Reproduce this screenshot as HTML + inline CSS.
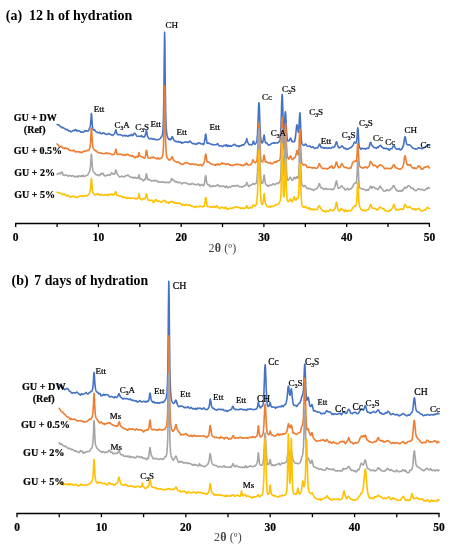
<!DOCTYPE html>
<html><head><meta charset="utf-8"><title>XRD patterns</title>
<style>
html,body{margin:0;padding:0;background:#fff;}
body{width:453px;height:550px;overflow:hidden;}
svg{display:block;}
text{font-family:"Liberation Serif","Times New Roman",serif;fill:#000;}
.ttl{font-size:14px;font-weight:bold;}
.ax{font-size:11.5px;font-weight:bold;}
.sr,.sr2,.ax{stroke:#000;stroke-width:0.2px;}
.sr{font-size:10px;font-weight:bold;}
.sr2{font-size:10.2px;font-weight:bold;}
.pk{font-size:9px;stroke:#000;stroke-width:0.22px;}
.pk2{font-size:9.8px;}
.sub{font-size:5.6px;}
.at{font-size:12px;fill:#454545;letter-spacing:0.15px;}
</style></head><body>
<svg width="453" height="550" viewBox="0 0 453 550">
<rect width="453" height="550" fill="#fff"/>
<text class="ttl" x="5.8" y="20.2" text-anchor="start">(a)  12 h of hydration</text>

<text class="ttl" x="11.6" y="285.0" text-anchor="start">(b)</text>

<text class="ttl" style="font-size:13.8px" x="34.3" y="285">7 days of hydration</text>
<polyline points="57.1,124.5 57.6,124.6 58.1,124.7 58.6,124.9 59.1,125.2 59.6,125.9 60.0,126.2 60.5,126.3 61.0,127.0 61.5,127.6 62.0,127.5 62.5,127.3 63.0,127.6 63.5,128.1 64.0,128.3 64.5,128.5 65.0,128.9 65.5,129.3 66.0,129.8 66.5,129.6 67.0,129.3 67.5,129.8 68.0,130.2 68.5,130.8 69.0,131.1 69.5,130.8 70.0,131.0 70.5,131.6 71.0,131.7 71.5,131.7 72.0,131.3 72.5,130.8 73.0,130.6 73.5,130.4 73.9,130.7 74.4,130.7 74.9,130.1 75.4,129.6 75.9,129.6 76.4,130.4 76.9,131.2 77.4,130.9 77.9,130.3 78.4,130.7 78.9,130.9 79.4,131.0 79.9,131.2 80.4,131.8 80.9,132.1 81.4,132.1 81.9,132.1 82.4,132.1 82.9,132.2 83.4,132.3 83.9,131.8 84.4,131.1 84.9,130.5 85.4,130.6 85.9,131.1 86.4,131.2 86.9,130.9 87.4,130.9 87.8,131.1 88.3,130.9 88.8,130.5 88.9,130.3 89.1,129.7 89.3,129.1 89.3,128.8 89.4,128.5 89.6,127.9 89.8,127.1 89.8,127.1 89.9,127.1 90.1,126.8 90.2,126.3 90.3,126.0 90.4,125.5 90.6,124.3 90.7,122.3 90.8,121.1 90.9,119.7 91.1,116.9 91.2,114.6 91.3,113.9 91.4,113.6 91.6,114.4 91.7,116.7 91.8,118.1 91.9,119.5 92.1,122.0 92.2,124.2 92.3,125.1 92.4,125.9 92.6,127.2 92.7,128.1 92.8,128.5 92.9,128.8 93.1,129.3 93.2,129.7 93.3,129.9 93.4,130.0 93.6,130.0 93.7,129.9 93.8,129.9 93.9,129.8 94.3,129.5 94.8,130.3 95.3,131.0 95.8,131.6 96.3,132.0 96.8,132.0 97.3,132.3 97.8,132.8 98.3,132.8 98.8,132.7 99.3,132.5 99.8,132.2 100.3,133.0 100.8,133.6 101.3,133.7 101.7,133.7 102.2,133.5 102.7,133.1 103.2,132.7 103.7,132.9 104.2,133.2 104.7,133.6 105.2,134.0 105.7,134.1 106.2,134.2 106.7,134.4 107.2,134.4 107.7,134.1 108.2,133.8 108.7,133.6 109.2,133.6 109.7,133.9 110.2,134.3 110.7,134.6 111.2,134.7 111.7,134.9 112.2,135.3 112.7,135.4 113.2,134.8 113.7,134.4 114.2,134.1 114.7,133.4 115.2,131.8 115.5,130.5 115.6,130.0 115.8,129.8 116.1,130.4 116.6,132.6 117.1,134.1 117.6,134.6 118.1,134.8 118.6,134.7 119.1,134.6 119.6,134.5 120.1,134.6 120.6,135.0 121.1,135.0 121.6,135.0 122.1,135.5 122.6,135.9 123.1,135.8 123.6,135.7 124.1,135.2 124.6,135.3 125.1,136.0 125.6,135.9 126.1,135.5 126.6,135.6 127.1,135.9 127.6,136.2 128.1,136.3 128.6,135.7 129.1,135.3 129.6,135.6 130.0,135.6 130.5,135.1 131.0,134.8 131.5,134.5 132.0,135.1 132.5,135.7 133.0,135.2 133.5,134.5 134.0,133.5 134.5,133.2 135.0,133.5 135.5,134.1 136.0,134.8 136.5,135.6 137.0,136.3 137.5,136.4 138.0,136.3 138.5,136.2 139.0,136.2 139.5,136.2 140.0,136.3 140.5,136.5 141.0,136.2 141.5,135.6 142.0,136.0 142.5,136.9 143.0,136.9 143.5,136.7 143.9,136.8 144.1,136.9 144.3,137.0 144.4,136.9 144.6,136.7 144.8,136.4 144.9,136.1 145.1,135.7 145.3,135.1 145.4,134.7 145.6,134.1 145.8,133.4 145.9,132.4 146.1,131.5 146.3,130.8 146.4,130.5 146.6,130.9 146.8,131.9 146.9,133.1 147.1,134.3 147.3,135.1 147.4,135.8 147.6,136.3 147.8,136.7 147.9,136.9 148.1,137.2 148.2,137.5 148.4,137.8 148.6,138.1 148.7,138.3 148.9,138.5 149.4,138.7 149.9,138.8 150.4,138.6 150.9,138.5 151.4,138.6 151.9,138.8 152.4,139.1 152.9,139.2 153.4,139.1 153.9,139.0 154.4,138.8 154.9,139.3 155.4,139.7 155.9,139.7 156.4,139.7 156.9,139.7 157.4,139.6 157.8,139.5 158.3,139.5 158.8,139.5 159.3,139.2 159.8,138.8 160.3,138.3 160.8,137.7 161.3,137.1 161.8,136.2 162.1,135.5 162.3,135.0 162.5,134.3 162.6,133.2 162.8,131.5 163.0,129.4 163.1,126.5 163.3,122.5 163.5,116.9 163.6,109.6 163.8,99.4 164.0,86.1 164.1,70.0 164.3,52.8 164.5,38.4 164.6,32.4 164.8,38.1 165.0,52.4 165.1,69.7 165.3,85.8 165.5,99.4 165.6,109.8 165.8,117.4 166.0,122.8 166.1,126.5 166.3,129.1 166.5,131.1 166.6,132.5 166.8,133.7 166.9,134.6 167.1,135.4 167.3,136.1 167.8,137.6 168.3,138.7 168.8,139.5 169.3,139.5 169.8,138.9 170.3,139.4 170.8,139.8 171.3,138.7 171.7,137.4 172.1,136.8 172.2,136.7 172.4,136.7 172.7,137.2 173.2,138.7 173.7,139.7 174.2,140.2 174.7,140.8 175.2,141.4 175.7,141.4 176.2,141.3 176.7,141.7 177.2,141.9 177.7,141.5 178.2,141.4 178.7,141.9 179.2,142.2 179.7,142.3 180.2,142.1 180.7,141.8 181.2,142.4 181.7,143.4 182.2,143.0 182.7,142.6 183.2,142.7 183.7,142.6 184.2,142.2 184.7,142.0 185.2,142.0 185.6,142.1 186.1,142.1 186.6,142.1 187.1,142.0 187.6,142.4 188.1,142.5 188.6,142.1 189.1,141.9 189.6,141.4 190.1,141.1 190.6,141.5 191.1,142.2 191.6,142.8 192.1,143.3 192.6,143.6 193.1,143.5 193.6,143.6 194.1,143.6 194.6,143.8 195.1,144.0 195.6,144.2 196.1,144.4 196.6,144.0 197.1,143.3 197.6,143.5 198.1,143.7 198.6,143.1 199.1,142.9 199.5,142.9 200.0,143.0 200.5,143.6 201.0,143.9 201.5,144.0 202.0,144.0 202.5,143.8 203.0,144.3 203.2,144.4 203.4,144.5 203.5,144.6 203.7,144.3 203.9,143.9 204.0,143.5 204.2,142.9 204.3,142.2 204.5,141.4 204.7,140.6 204.8,139.5 205.0,138.3 205.2,136.9 205.3,135.6 205.5,134.6 205.7,134.1 205.8,134.5 206.0,135.5 206.2,136.8 206.3,138.2 206.5,139.5 206.7,140.8 206.8,141.7 207.0,142.5 207.2,143.2 207.3,143.2 207.5,143.2 207.7,143.1 207.8,142.9 208.0,142.7 208.2,142.7 208.5,143.0 209.0,143.5 209.5,143.5 210.0,143.6 210.5,143.9 211.0,144.2 211.5,144.2 212.0,144.4 212.5,144.7 213.0,144.7 213.4,144.6 213.9,144.6 214.4,144.7 214.9,144.7 215.4,144.7 215.9,144.7 216.4,144.6 216.9,144.2 217.3,143.7 217.4,143.5 217.6,143.5 217.9,143.9 218.4,144.9 218.9,145.7 219.4,145.9 219.9,145.8 220.4,145.8 220.9,145.8 221.4,146.0 221.9,146.2 222.4,146.4 222.9,146.4 223.4,146.1 223.9,145.5 224.4,145.3 224.9,145.6 225.4,145.7 225.9,145.1 226.4,144.7 226.9,145.9 227.3,146.4 227.8,145.5 228.3,145.4 228.8,146.3 229.3,146.2 229.8,145.6 230.3,145.9 230.8,146.3 231.3,146.2 231.8,146.0 232.3,145.6 232.8,145.3 233.3,145.0 233.8,144.7 234.3,144.3 234.8,144.4 235.3,144.8 235.8,145.3 236.3,145.9 236.8,145.9 237.3,145.9 237.8,145.7 238.3,145.8 238.8,146.6 239.3,146.6 239.8,145.8 240.3,145.7 240.8,145.9 241.2,145.5 241.7,145.0 242.2,144.9 242.7,144.8 243.2,145.1 243.7,145.1 244.2,144.4 244.7,143.7 245.2,143.1 245.7,142.5 246.2,140.9 246.5,139.6 246.7,138.6 246.8,138.6 247.1,139.9 247.2,140.4 247.7,142.3 248.2,143.1 248.7,144.1 249.2,144.7 249.7,144.8 250.2,144.8 250.7,144.6 251.2,144.8 251.7,144.9 252.2,144.5 252.7,143.5 252.8,142.8 253.2,141.6 253.5,141.2 253.7,141.5 254.2,143.3 254.7,144.3 255.1,144.2 255.6,143.7 256.1,142.9 256.5,142.2 256.6,141.7 256.8,141.0 257.0,140.0 257.1,138.6 257.3,136.7 257.5,134.2 257.6,131.1 257.8,127.4 258.0,123.3 258.1,118.8 258.3,114.2 258.5,109.8 258.6,106.1 258.8,103.6 259.0,102.7 259.1,103.7 259.3,106.4 259.5,110.4 259.6,114.9 259.8,119.7 259.9,124.4 260.1,128.3 260.3,131.7 260.4,134.5 260.6,136.8 260.8,138.4 260.9,139.8 261.1,140.8 261.3,141.6 261.4,142.2 261.6,142.7 261.7,142.8 261.9,143.0 262.0,143.0 262.1,143.0 262.2,142.9 262.3,142.8 262.5,142.6 262.6,142.5 262.7,142.3 262.8,141.9 263.0,141.4 263.1,141.0 263.2,140.7 263.3,139.7 263.5,138.5 263.6,137.8 263.7,137.3 263.8,136.1 264.0,135.2 264.1,135.0 264.2,135.0 264.3,135.7 264.5,137.0 264.6,137.6 264.7,138.3 264.8,139.6 265.0,140.7 265.1,141.1 265.2,141.5 265.3,142.2 265.5,142.6 265.6,142.7 265.7,142.8 265.8,142.9 266.0,142.9 266.1,142.8 266.2,142.8 266.3,142.7 266.5,142.8 266.6,142.8 266.7,142.8 267.1,143.2 267.6,144.0 268.1,144.8 268.6,145.0 269.0,145.1 269.5,144.9 270.0,144.8 270.5,144.4 271.0,143.9 271.5,143.6 272.0,143.3 272.5,143.2 273.0,143.1 273.5,142.8 274.0,142.7 274.5,143.1 275.0,143.1 275.5,143.0 276.0,142.9 276.5,142.8 277.0,142.8 277.5,142.9 278.0,142.8 278.5,142.4 279.0,141.8 279.5,141.1 279.6,140.8 279.8,140.3 280.0,139.7 280.1,138.9 280.3,137.8 280.5,136.1 280.6,133.9 280.8,130.8 281.0,126.8 281.1,121.7 281.3,116.1 281.5,110.2 281.6,104.4 281.8,99.5 282.0,95.9 282.1,94.5 282.3,95.5 282.5,98.7 282.6,103.4 282.8,109.0 283.0,114.9 283.1,120.2 283.3,124.8 283.4,128.4 283.6,131.0 283.8,132.0 283.9,131.9 284.1,130.9 284.3,128.9 284.4,126.3 284.6,123.2 284.8,120.1 284.9,116.9 285.1,114.1 285.3,112.3 285.4,111.8 285.6,112.7 285.8,115.0 285.9,118.2 286.1,122.0 286.3,125.7 286.4,129.2 286.6,132.3 286.8,134.8 286.9,136.8 287.1,138.3 287.3,139.4 287.4,140.1 287.6,140.5 287.7,140.7 287.9,140.9 288.4,141.0 288.9,140.7 289.4,140.2 289.9,139.2 290.1,138.8 290.4,138.2 290.7,138.4 290.9,138.7 291.4,140.4 291.9,141.6 292.4,141.6 292.9,141.5 293.4,141.7 293.9,141.8 294.4,141.7 294.5,141.5 294.7,141.0 294.9,140.3 295.0,139.5 295.2,138.6 295.4,137.5 295.5,136.2 295.7,134.8 295.9,133.2 296.0,131.6 296.2,129.9 296.4,128.3 296.5,126.8 296.7,125.7 296.9,125.0 297.0,124.7 297.2,125.0 297.3,125.7 297.4,126.2 297.5,126.7 297.6,127.4 297.7,128.0 297.8,128.7 297.8,129.4 297.9,130.0 298.0,130.6 298.1,131.2 298.2,131.6 298.3,132.0 298.3,132.2 298.4,132.2 298.5,132.1 298.6,131.8 298.7,131.3 298.8,130.6 298.8,129.8 298.9,128.7 299.0,127.4 299.1,125.9 299.2,124.3 299.2,122.6 299.3,120.9 299.4,119.1 299.5,117.4 299.6,115.9 299.7,113.6 299.8,113.0 299.9,112.9 300.1,114.0 300.2,116.6 300.3,118.4 300.4,120.3 300.6,124.4 300.7,128.5 300.8,130.4 300.9,132.1 301.1,135.3 301.2,137.9 301.3,139.0 301.4,139.9 301.6,141.4 301.7,142.4 301.8,142.8 301.9,143.2 302.1,143.7 302.2,144.0 302.3,144.2 302.4,144.3 302.8,144.8 303.3,145.3 303.8,145.5 304.3,145.3 304.8,144.7 305.0,144.5 305.3,144.1 305.6,144.1 305.8,144.3 306.3,144.8 306.8,145.5 307.3,146.1 307.8,146.3 308.3,146.3 308.8,146.3 309.3,146.2 309.8,146.1 310.3,146.3 310.8,146.9 311.2,147.3 311.7,147.4 312.2,147.0 312.7,146.5 313.2,147.1 313.7,147.7 314.2,148.2 314.7,148.4 315.2,148.3 315.7,148.0 316.2,147.8 316.7,147.8 317.2,147.9 317.7,147.7 318.2,147.1 318.7,145.9 319.0,145.0 319.2,144.6 319.4,144.2 319.7,144.0 320.2,144.8 320.7,146.9 321.2,147.7 321.7,147.3 322.2,147.3 322.7,147.5 323.2,147.9 323.7,148.3 324.2,148.1 324.7,148.0 325.1,147.8 325.6,147.8 326.1,147.9 326.6,147.9 327.1,148.0 327.6,148.2 328.1,148.2 328.6,148.0 329.1,147.8 329.6,148.1 330.1,148.3 330.6,148.2 331.1,148.1 331.6,147.7 332.1,147.4 332.6,147.1 333.1,147.2 333.6,147.4 334.0,147.3 334.1,147.2 334.2,147.2 334.3,147.0 334.5,146.9 334.6,146.8 334.7,146.7 334.8,146.3 335.0,145.9 335.1,145.6 335.2,145.4 335.3,144.8 335.5,144.2 335.6,144.0 335.7,143.7 335.8,143.1 336.0,142.5 336.1,142.3 336.2,142.0 336.3,141.7 336.5,141.7 336.6,141.7 336.6,141.9 336.8,142.4 337.0,143.0 337.1,143.3 337.1,143.7 337.3,144.4 337.5,145.0 337.6,145.2 337.6,145.5 337.8,145.9 338.0,146.3 338.1,146.5 338.1,146.6 338.3,146.9 338.5,147.3 338.6,147.4 338.6,147.5 338.8,147.7 339.0,147.9 339.0,148.0 339.5,147.8 340.0,147.3 340.5,147.3 341.0,147.0 341.4,146.4 341.5,146.2 341.7,146.0 342.0,145.9 342.5,146.2 343.0,146.8 343.5,147.6 344.0,148.2 344.5,148.5 345.0,148.3 345.5,148.0 346.0,148.8 346.5,149.4 347.0,149.3 347.5,149.1 348.0,149.0 348.5,148.8 349.0,148.5 349.5,148.2 350.0,147.8 350.5,147.7 351.0,147.6 351.5,147.0 352.0,146.4 352.5,145.9 352.6,145.8 352.8,145.6 352.9,145.2 353.1,144.9 353.3,144.5 353.4,144.2 353.6,143.8 353.8,143.4 353.9,143.1 354.1,142.8 354.3,142.6 354.4,142.3 354.6,142.1 354.8,142.1 354.9,142.2 355.1,142.3 355.3,142.5 355.3,142.6 355.4,142.7 355.5,142.8 355.6,142.9 355.7,142.9 355.8,143.0 355.8,143.0 355.9,143.0 356.0,143.0 356.1,143.0 356.2,142.9 356.3,142.8 356.3,142.6 356.4,142.3 356.5,142.0 356.6,141.6 356.7,141.0 356.8,140.3 356.8,139.5 356.9,138.6 357.0,137.6 357.1,136.4 357.2,135.1 357.3,133.8 357.3,132.5 357.4,131.2 357.5,130.0 357.7,128.2 357.8,127.7 357.9,128.0 358.0,128.7 358.2,130.9 358.3,133.9 358.4,135.5 358.5,137.1 358.7,140.1 358.8,142.7 358.9,143.8 359.0,144.7 359.2,146.3 359.3,147.1 359.4,147.3 359.5,147.5 359.7,147.8 359.8,147.9 359.9,147.9 360.0,147.9 360.1,148.0 360.3,148.3 360.4,148.5 360.9,149.2 361.4,148.9 361.9,148.3 362.4,148.4 362.9,148.5 363.4,148.6 363.9,148.6 364.4,148.6 364.9,148.7 365.4,149.1 365.9,149.0 366.4,148.5 366.8,148.3 367.3,148.1 367.8,148.4 368.3,148.5 368.8,147.6 369.3,146.2 369.8,144.2 370.3,142.6 370.7,142.4 370.8,142.6 371.0,143.0 371.3,143.8 371.8,145.2 372.3,145.9 372.8,146.0 373.3,146.7 373.6,147.2 373.8,147.4 374.0,147.4 374.3,147.6 374.8,147.8 375.3,147.7 375.8,147.9 376.3,148.4 376.8,148.0 377.3,147.1 377.8,147.2 378.3,147.5 378.8,146.7 379.3,146.0 379.8,145.8 380.3,145.8 380.6,145.4 380.7,145.3 380.9,145.3 381.2,145.8 381.7,146.9 382.2,147.4 382.7,147.5 383.2,147.9 383.7,148.4 384.2,148.4 384.7,148.3 385.2,148.5 385.7,148.7 386.2,148.4 386.7,148.5 387.2,148.9 387.7,148.9 388.2,148.7 388.7,149.4 389.2,150.3 389.7,149.6 390.2,149.0 390.7,148.8 391.2,148.7 391.7,148.8 392.2,148.3 392.7,147.1 393.2,146.2 393.5,145.8 393.7,145.8 393.8,145.7 394.2,145.8 394.6,146.4 395.1,147.6 395.6,148.4 396.1,148.7 396.6,148.9 397.1,149.2 397.6,149.2 398.1,148.9 398.6,148.7 399.1,148.6 399.6,149.2 400.1,149.9 400.6,149.9 401.1,149.6 401.6,149.2 402.1,148.5 402.5,147.6 402.6,147.4 402.7,147.1 402.8,146.6 403.0,146.3 403.1,146.1 403.2,146.0 403.3,145.5 403.5,144.9 403.6,144.6 403.7,144.3 403.8,143.4 404.0,142.2 404.1,141.6 404.2,141.0 404.3,139.8 404.5,138.6 404.6,138.1 404.7,137.6 404.8,137.0 405.0,136.8 405.1,136.8 405.2,136.9 405.3,137.3 405.5,138.0 405.6,138.4 405.7,138.9 405.8,139.9 406.0,140.8 406.1,141.3 406.2,141.8 406.3,142.6 406.5,143.3 406.6,143.6 406.6,143.8 406.8,144.1 407.0,144.3 407.1,144.4 407.1,144.5 407.3,144.6 407.5,144.7 407.6,144.7 408.1,144.9 408.5,144.8 409.0,144.8 409.2,144.8 409.5,144.9 409.9,145.0 410.0,145.1 410.5,145.5 411.0,145.9 411.5,146.5 412.0,147.2 412.5,147.8 413.0,148.3 413.5,148.5 414.0,148.5 414.5,148.5 415.0,148.7 415.5,149.1 416.0,149.1 416.5,149.0 417.0,148.9 417.5,148.6 418.0,148.2 418.3,147.9 418.5,147.8 418.6,147.8 419.0,147.8 419.5,148.1 420.0,148.2 420.5,148.3 421.0,148.5 421.5,148.6 422.0,148.7 422.4,148.6 422.9,148.4 423.4,148.0 423.9,147.7 424.4,147.6 424.9,147.2 425.4,146.9 425.9,146.5 426.4,146.0 426.9,145.4 427.4,144.8 427.7,144.7 427.9,144.7 428.1,144.7 428.4,144.9 428.9,145.3 429.4,145.7" fill="none" stroke="#4472C4" stroke-width="1.6" stroke-linejoin="round" stroke-linecap="round"/>
<polyline points="57.1,143.9 57.6,144.5 58.1,145.0 58.6,145.3 59.1,145.9 59.6,146.7 60.0,146.8 60.5,146.8 61.0,146.6 61.5,146.3 62.0,147.0 62.5,147.6 63.0,147.8 63.5,148.1 64.0,148.7 64.5,148.7 65.0,147.9 65.5,147.8 66.0,148.3 66.5,148.5 67.0,148.7 67.5,148.7 68.0,148.6 68.5,149.1 69.0,150.0 69.5,150.4 70.0,150.4 70.5,150.3 71.0,150.5 71.5,150.7 72.0,150.8 72.5,151.0 73.0,150.5 73.5,150.1 73.9,150.4 74.4,150.9 74.9,151.6 75.4,151.9 75.9,151.9 76.4,151.8 76.9,151.7 77.4,151.7 77.9,151.8 78.4,151.9 78.9,152.0 79.4,151.7 79.9,151.7 80.4,152.5 80.9,152.7 81.4,152.4 81.9,152.4 82.4,152.3 82.9,152.0 83.4,151.4 83.9,151.3 84.4,151.1 84.9,151.2 85.4,151.4 85.9,151.1 86.4,150.8 86.9,150.3 87.4,150.3 87.8,150.6 88.3,150.5 88.8,150.2 88.9,150.0 89.1,149.7 89.3,149.3 89.3,149.1 89.4,148.9 89.6,148.4 89.8,147.9 89.8,147.6 89.9,147.3 90.1,146.6 90.2,145.5 90.3,144.7 90.4,143.9 90.6,141.8 90.7,139.0 90.8,137.4 90.9,135.7 91.1,132.2 91.2,129.3 91.3,128.5 91.4,128.1 91.6,129.2 91.7,131.9 91.8,133.6 91.9,135.3 92.1,138.4 92.2,141.1 92.3,142.1 92.4,143.1 92.6,144.7 92.7,145.9 92.8,146.5 92.9,146.9 93.1,147.6 93.2,148.2 93.3,148.5 93.4,148.8 93.6,149.0 93.7,149.2 93.8,149.3 93.9,149.4 94.3,149.8 94.8,150.4 95.3,150.8 95.8,150.9 96.3,151.0 96.8,151.4 97.3,151.9 97.8,152.5 98.3,152.8 98.8,152.8 99.3,152.9 99.8,153.1 100.3,152.9 100.8,152.7 101.3,153.0 101.7,153.2 102.2,153.4 102.7,153.6 103.2,153.6 103.7,153.7 104.2,153.7 104.7,153.4 105.2,153.0 105.7,153.2 106.2,153.3 106.7,152.9 107.2,153.0 107.7,153.5 108.2,153.6 108.7,153.4 109.2,153.4 109.7,153.5 110.2,153.6 110.7,153.7 111.2,154.2 111.7,154.6 112.2,154.6 112.7,154.6 113.2,154.6 113.7,154.4 114.2,153.8 114.7,153.2 115.2,151.9 115.5,150.3 115.6,149.6 115.8,149.3 116.1,149.6 116.6,152.4 117.1,154.3 117.6,154.4 118.1,154.3 118.6,154.4 119.1,154.4 119.6,154.5 120.1,154.4 120.6,154.1 121.1,154.2 121.6,154.3 122.1,154.7 122.6,155.0 123.1,155.3 123.6,155.3 124.1,154.9 124.6,154.8 125.1,154.9 125.6,155.1 126.1,155.3 126.6,154.9 127.1,154.3 127.6,154.3 128.1,154.5 128.6,155.0 129.1,155.3 129.6,155.5 130.0,155.6 130.5,155.5 131.0,155.8 131.5,156.3 132.0,155.9 132.5,155.6 133.0,156.1 133.5,156.6 134.0,157.1 134.5,157.5 135.0,157.7 135.5,157.4 136.0,156.5 136.5,156.4 137.0,156.7 137.5,157.0 138.0,157.1 138.5,154.9 138.7,153.9 139.0,152.6 139.3,153.7 139.5,154.5 140.0,156.0 140.5,156.4 141.0,156.6 141.5,156.7 142.0,156.8 142.5,157.0 143.0,157.3 143.5,157.7 143.9,158.0 144.1,158.1 144.3,158.1 144.4,158.1 144.6,158.0 144.8,157.9 144.9,157.7 145.1,157.4 145.3,157.0 145.4,156.2 145.6,155.3 145.8,154.2 145.9,153.0 146.1,151.7 146.3,150.7 146.4,150.2 146.6,150.4 146.8,151.2 146.9,152.1 147.1,153.1 147.3,154.3 147.4,155.3 147.6,156.1 147.8,156.8 147.9,157.4 148.1,157.7 148.2,157.8 148.4,157.9 148.6,157.9 148.7,158.0 148.9,158.0 149.4,158.2 149.9,158.3 150.4,158.1 150.9,157.8 151.4,157.2 151.9,157.2 152.4,157.8 152.9,157.6 153.4,157.0 153.9,157.3 154.4,157.7 154.9,158.0 155.4,158.3 155.9,158.4 156.4,158.5 156.9,159.0 157.4,158.7 157.8,157.7 158.3,157.9 158.8,158.7 159.3,158.9 159.8,158.9 160.3,158.6 160.8,158.2 161.3,158.3 161.8,157.8 162.1,156.8 162.3,156.3 162.5,155.6 162.6,154.9 162.8,154.2 163.0,153.1 163.1,151.5 163.3,149.2 163.5,145.7 163.6,140.4 163.8,133.1 164.0,123.7 164.1,112.3 164.3,100.1 164.5,89.9 164.6,85.7 164.8,89.7 165.0,99.7 165.1,111.8 165.3,123.1 165.5,132.6 165.6,139.9 165.8,145.3 166.0,149.0 166.1,151.6 166.3,153.5 166.5,154.8 166.6,155.8 166.8,156.5 166.9,157.1 167.1,157.6 167.3,157.9 167.8,158.6 168.3,159.2 168.8,159.9 169.3,160.1 169.8,159.8 170.3,159.8 170.8,159.5 171.3,158.4 171.7,157.2 172.1,156.7 172.2,156.7 172.4,156.9 172.7,157.7 173.2,159.1 173.7,160.1 174.2,160.7 174.7,161.1 175.2,161.5 175.7,161.7 176.2,161.8 176.7,162.2 177.2,162.4 177.7,162.0 178.2,161.8 178.7,162.2 179.2,162.9 179.7,163.4 180.2,163.6 180.7,163.6 181.2,163.9 181.7,163.9 182.2,164.2 182.7,164.5 183.2,164.5 183.7,164.1 184.2,163.3 184.7,163.0 185.2,163.0 185.6,162.9 186.1,162.9 186.6,162.8 187.1,162.7 187.6,162.9 188.1,163.2 188.6,163.4 189.1,163.6 189.6,164.0 190.1,164.3 190.6,164.5 191.1,164.3 191.6,163.7 192.1,163.8 192.6,163.9 193.1,164.0 193.6,164.2 194.1,164.5 194.6,164.6 195.1,164.4 195.6,164.3 196.1,164.4 196.6,164.4 197.1,164.8 197.6,165.1 198.1,165.3 198.6,165.2 199.1,165.1 199.5,164.9 200.0,164.7 200.5,164.5 201.0,164.8 201.5,165.6 202.0,165.7 202.5,165.2 203.0,164.5 203.2,164.2 203.4,163.9 203.5,163.6 203.7,163.4 203.9,163.2 204.0,162.9 204.2,162.5 204.3,162.0 204.5,161.3 204.7,160.4 204.8,159.3 205.0,158.1 205.2,156.8 205.3,155.6 205.5,154.5 205.7,154.0 205.8,154.1 206.0,154.8 206.2,155.8 206.3,157.1 206.5,158.4 206.7,159.5 206.8,160.5 207.0,161.2 207.2,161.8 207.3,162.0 207.5,162.1 207.7,162.1 207.8,162.1 208.0,162.0 208.2,161.9 208.5,161.9 209.0,162.1 209.5,162.8 210.0,163.4 210.5,163.5 211.0,163.7 211.5,164.1 212.0,164.3 212.5,164.4 213.0,164.5 213.4,164.5 213.9,164.6 214.4,164.7 214.9,165.1 215.4,165.3 215.9,164.6 216.4,164.4 216.9,164.8 217.3,164.8 217.4,164.5 217.6,164.2 217.9,163.9 218.4,164.4 218.9,165.0 219.4,164.9 219.9,164.6 220.4,164.2 220.9,163.8 221.4,163.1 221.9,162.9 222.4,163.7 222.9,164.0 223.4,163.5 223.9,163.4 224.4,163.6 224.9,163.9 225.4,164.3 225.9,164.4 226.4,164.4 226.9,164.4 227.3,164.2 227.8,163.8 228.3,163.9 228.8,164.0 229.3,164.6 229.8,165.4 230.3,165.3 230.8,164.9 231.3,165.2 231.8,165.4 232.3,165.4 232.8,165.4 233.3,165.5 233.8,165.3 234.3,164.8 234.8,164.6 235.3,164.6 235.8,164.6 236.3,164.7 236.8,164.3 237.3,164.1 237.8,164.4 238.3,164.7 238.8,164.7 239.3,164.6 239.8,164.6 240.3,164.8 240.8,165.1 241.2,165.0 241.7,164.9 242.2,165.4 242.7,165.8 243.2,165.7 243.7,165.4 244.2,164.5 244.7,164.3 245.2,164.8 245.7,164.5 246.2,163.6 246.5,163.2 246.7,163.0 246.8,163.0 247.1,163.8 247.2,164.0 247.7,164.7 248.2,164.9 248.7,165.1 249.2,165.1 249.7,164.9 250.2,164.7 250.7,164.6 251.2,164.1 251.7,163.3 252.2,161.9 252.7,160.2 252.8,160.0 253.2,159.9 253.5,160.5 253.7,161.0 254.2,162.1 254.7,162.6 255.1,162.8 255.6,162.5 256.1,161.9 256.5,161.5 256.6,161.2 256.8,160.7 257.0,160.0 257.1,158.8 257.3,157.0 257.5,154.4 257.6,151.2 257.8,147.4 258.0,143.2 258.1,138.5 258.3,134.0 258.5,129.7 258.6,126.1 258.8,123.7 259.0,122.9 259.1,123.8 259.3,126.3 259.5,129.9 259.6,134.2 259.8,138.8 259.9,143.1 260.1,147.4 260.3,151.1 260.4,154.2 260.6,156.7 260.8,158.7 260.9,160.0 261.1,160.6 261.3,161.0 261.4,161.2 261.6,161.2 261.7,161.2 261.9,161.3 262.0,161.5 262.1,161.6 262.2,161.7 262.3,161.8 262.5,161.9 262.6,161.9 262.7,161.8 262.8,161.4 263.0,160.8 263.1,160.5 263.2,160.1 263.3,159.2 263.5,158.1 263.6,157.5 263.7,157.0 263.8,156.0 264.0,155.3 264.1,155.1 264.2,155.1 264.3,155.6 264.5,156.6 264.6,157.2 264.7,157.8 264.8,159.0 265.0,160.0 265.1,160.5 265.2,160.9 265.3,161.6 265.5,162.0 265.6,162.0 265.7,162.0 265.8,162.0 266.0,161.9 266.1,161.8 266.2,161.7 266.3,161.5 266.5,161.7 266.6,161.8 266.7,161.8 267.1,162.2 267.6,162.6 268.1,163.0 268.6,163.0 269.0,162.9 269.5,162.6 270.0,162.5 270.5,163.3 271.0,163.7 271.5,163.4 272.0,163.4 272.5,163.7 273.0,163.4 273.5,163.0 274.0,162.4 274.5,161.8 275.0,161.8 275.5,161.9 276.0,162.2 276.5,162.1 277.0,161.2 277.5,160.8 278.0,160.8 278.5,160.8 279.0,160.8 279.5,160.3 279.6,160.1 279.8,159.7 280.0,159.2 280.1,158.3 280.3,157.2 280.5,155.5 280.6,153.3 280.8,150.4 281.0,146.7 281.1,142.1 281.3,137.0 281.5,131.5 281.6,126.0 281.8,121.3 282.0,118.4 282.1,117.5 282.3,118.9 282.5,122.1 282.6,126.8 282.8,131.7 283.0,136.5 283.1,140.8 283.3,144.4 283.4,147.1 283.6,148.7 283.8,149.5 283.9,149.3 284.1,148.0 284.3,145.8 284.4,142.7 284.6,139.0 284.8,134.9 284.9,130.7 285.1,127.1 285.3,124.6 285.4,123.7 285.6,124.6 285.8,127.2 285.9,130.8 286.1,135.0 286.3,139.3 286.4,143.3 286.6,146.9 286.8,149.9 286.9,152.3 287.1,154.1 287.3,155.4 287.4,156.4 287.6,157.1 287.7,157.6 287.9,158.0 288.4,158.6 288.9,159.1 289.4,158.4 289.9,156.8 290.1,156.3 290.4,155.9 290.7,156.0 290.9,156.2 291.4,158.0 291.9,159.3 292.4,159.6 292.9,159.6 293.4,158.8 293.8,157.9 293.9,157.8 294.1,157.7 294.4,157.8 294.5,157.9 294.5,158.0 294.7,158.0 294.9,157.8 295.0,157.6 295.2,157.3 295.4,156.8 295.5,156.4 295.7,155.9 295.9,155.3 296.0,154.6 296.2,153.7 296.4,152.9 296.5,152.0 296.7,151.2 296.9,150.7 297.0,150.5 297.2,150.7 297.3,151.3 297.4,151.7 297.5,152.1 297.6,152.5 297.7,153.0 297.8,153.4 297.8,153.8 297.9,154.2 298.0,154.5 298.1,154.8 298.2,154.9 298.3,154.9 298.3,154.8 298.4,154.5 298.5,154.0 298.6,153.3 298.7,152.5 298.8,151.5 298.8,150.2 298.9,148.7 299.0,147.1 299.1,145.3 299.2,143.2 299.2,141.1 299.3,138.9 299.4,136.7 299.5,134.7 299.6,132.8 299.7,130.0 299.8,129.3 299.9,129.1 300.1,130.3 300.2,133.4 300.3,135.4 300.4,137.7 300.6,142.4 300.7,147.0 300.8,149.1 300.9,151.1 301.1,154.6 301.2,157.5 301.3,158.6 301.4,159.6 301.6,161.2 301.7,162.4 301.8,162.8 301.9,163.1 302.1,163.5 302.2,163.8 302.3,163.9 302.4,164.0 302.8,164.3 303.3,165.0 303.8,165.1 304.3,164.9 304.8,164.6 305.0,164.5 305.3,164.5 305.6,164.8 305.8,164.9 306.3,165.5 306.8,166.6 307.3,167.6 307.8,167.4 308.3,167.2 308.8,167.1 309.3,167.1 309.8,167.4 310.3,167.5 310.8,167.4 311.2,167.5 311.7,167.7 312.2,168.0 312.7,168.2 313.2,167.8 313.7,167.5 314.2,167.8 314.7,167.9 315.2,168.0 315.7,168.1 316.2,168.3 316.7,168.2 317.2,167.9 317.7,167.3 318.2,166.3 318.7,164.9 319.0,163.9 319.2,163.6 319.4,163.6 319.7,164.2 320.2,165.5 320.7,166.3 321.2,167.1 321.7,167.9 322.2,168.2 322.7,168.3 323.2,168.5 323.7,168.8 324.2,168.6 324.7,168.4 325.1,168.4 325.6,168.5 326.1,168.5 326.6,168.6 327.1,169.1 327.6,168.9 328.1,168.4 328.6,168.2 329.1,168.0 329.6,167.3 330.1,166.6 330.6,166.9 331.1,166.7 331.6,165.8 332.1,166.3 332.6,168.0 333.1,168.3 333.6,167.9 334.0,167.8 334.1,167.8 334.2,167.8 334.3,167.7 334.5,167.5 334.6,167.4 334.7,167.2 334.8,166.8 335.0,166.4 335.1,166.1 335.2,165.8 335.3,165.2 335.5,164.5 335.6,164.3 335.7,164.0 335.8,163.4 336.0,162.9 336.1,162.6 336.2,162.4 336.3,162.1 336.5,162.0 336.6,162.1 336.6,162.3 336.8,162.8 337.0,163.5 337.1,163.8 337.1,164.2 337.3,165.0 337.5,165.5 337.6,165.7 337.6,165.9 337.8,166.3 338.0,166.6 338.1,166.7 338.1,166.8 338.3,167.1 338.5,167.3 338.6,167.4 338.6,167.5 338.8,167.6 339.0,167.7 339.0,167.7 339.5,167.6 340.0,167.3 340.5,166.4 341.0,165.2 341.4,164.3 341.5,163.9 341.7,163.6 342.0,163.7 342.5,164.6 343.0,165.7 343.5,166.4 344.0,167.1 344.5,167.5 345.0,167.5 345.5,167.3 346.0,167.4 346.5,167.5 347.0,167.9 347.5,168.2 348.0,168.2 348.5,168.3 349.0,168.5 349.5,168.3 350.0,167.8 350.5,167.9 351.0,167.9 351.5,166.2 352.0,164.5 352.5,163.4 352.6,162.9 352.8,162.5 352.9,162.2 353.1,162.0 353.3,161.9 353.4,161.9 353.6,162.0 353.8,161.9 353.9,161.8 354.1,161.6 354.3,161.4 354.4,161.3 354.6,161.2 354.8,161.0 354.9,161.0 355.1,160.9 355.3,160.9 355.3,160.9 355.4,160.9 355.5,160.9 355.6,161.0 355.7,161.1 355.8,161.2 355.8,161.3 355.9,161.4 356.0,161.5 356.1,161.5 356.2,161.4 356.3,161.4 356.3,161.2 356.4,160.9 356.5,160.5 356.6,160.0 356.7,159.3 356.8,158.5 356.8,157.5 356.9,156.4 357.0,155.1 357.1,153.7 357.2,152.2 357.3,150.7 357.3,149.1 357.4,147.6 357.5,146.2 357.7,144.1 357.8,143.4 357.9,143.7 358.0,144.5 358.2,147.1 358.3,150.4 358.4,152.1 358.5,153.8 358.7,157.0 358.8,159.6 358.9,160.7 359.0,161.7 359.2,163.2 359.3,164.4 359.4,164.8 359.5,165.2 359.7,165.8 359.8,166.2 359.9,166.3 360.0,166.5 360.1,166.7 360.3,166.9 360.4,167.0 360.9,167.3 361.4,167.5 361.9,167.6 362.4,167.9 362.9,168.1 363.4,167.7 363.9,167.5 364.4,167.7 364.9,167.4 365.4,166.7 365.9,166.9 366.4,167.6 366.8,167.8 367.3,167.9 367.8,167.3 368.3,166.7 368.8,166.5 369.3,165.5 369.8,163.3 370.3,161.7 370.7,161.4 370.8,161.6 371.0,161.9 371.3,162.4 371.8,163.1 372.3,164.1 372.8,165.1 373.3,165.5 373.6,165.6 373.8,165.5 374.0,165.4 374.3,165.2 374.8,165.1 375.3,165.6 375.8,166.0 376.3,166.3 376.8,166.9 377.3,167.7 377.8,167.2 378.3,166.2 378.8,165.8 379.3,165.4 379.8,164.9 380.3,164.7 380.6,164.7 380.7,164.8 380.9,164.9 381.2,165.1 381.7,165.6 382.2,165.9 382.7,166.2 383.2,166.7 383.7,167.3 384.2,168.2 384.7,168.9 385.2,168.6 385.7,168.5 386.2,168.4 386.7,168.3 387.2,168.1 387.7,168.3 388.2,168.7 388.7,168.8 389.2,168.7 389.7,168.4 390.2,168.2 390.7,168.5 391.2,168.6 391.7,167.9 392.2,167.3 392.7,166.4 393.2,165.5 393.5,165.0 393.7,164.9 393.8,164.8 394.2,164.9 394.6,165.7 395.1,167.0 395.6,167.9 396.1,167.9 396.6,168.0 397.1,168.1 397.6,168.4 398.1,168.7 398.6,168.9 399.1,168.9 399.6,169.1 400.1,169.4 400.6,169.1 401.1,168.7 401.6,168.3 402.1,167.8 402.5,167.3 402.6,167.2 402.7,167.0 402.8,166.7 403.0,166.2 403.1,166.0 403.2,165.7 403.3,165.1 403.5,164.4 403.6,164.0 403.7,163.5 403.8,162.5 404.0,161.3 404.1,160.7 404.2,160.0 404.3,158.8 404.5,157.6 404.6,157.0 404.7,156.5 404.8,156.0 405.0,155.8 405.1,155.9 405.2,156.0 405.3,156.5 405.5,157.3 405.6,157.8 405.7,158.2 405.8,159.1 406.0,160.0 406.1,160.5 406.2,160.9 406.3,161.7 406.5,162.3 406.6,162.7 406.6,163.0 406.8,163.6 407.0,164.2 407.1,164.4 407.1,164.6 407.3,165.0 407.5,165.1 407.6,165.1 408.1,164.8 408.5,164.8 409.0,165.3 409.2,165.4 409.5,165.1 409.9,164.8 410.0,164.6 410.5,165.0 411.0,165.7 411.5,166.6 412.0,167.4 412.5,167.5 413.0,167.8 413.5,168.5 414.0,168.4 414.5,167.7 415.0,167.9 415.5,168.5 416.0,168.5 416.5,168.4 417.0,168.0 417.5,167.4 418.0,166.4 418.3,165.8 418.5,165.8 418.6,166.0 419.0,166.4 419.5,166.6 420.0,166.3 420.5,167.4 421.0,168.9 421.5,169.1 422.0,169.0 422.4,169.1 422.9,169.1 423.4,168.5 423.9,167.8 424.4,167.2 424.9,167.0 425.4,167.2 425.9,167.1 426.4,166.8 426.9,166.5 427.4,166.5 427.7,166.2 427.9,166.2 428.1,166.2 428.4,166.5 428.9,167.3 429.4,168.0" fill="none" stroke="#ED7D31" stroke-width="1.6" stroke-linejoin="round" stroke-linecap="round"/>
<polyline points="57.1,174.2 57.6,174.0 58.1,173.8 58.6,173.5 59.1,173.3 59.6,173.1 60.0,173.4 60.5,173.9 61.0,173.2 61.5,172.2 62.0,172.0 62.5,172.8 63.0,174.3 63.5,175.3 64.0,175.5 64.5,175.4 65.0,175.0 65.5,175.0 66.0,175.0 66.5,175.0 67.0,175.2 67.5,175.7 68.0,176.1 68.5,176.0 69.0,175.8 69.5,175.6 70.0,175.6 70.5,175.8 71.0,176.1 71.5,176.4 72.0,176.0 72.5,175.5 73.0,175.7 73.5,175.9 73.9,176.2 74.4,176.5 74.9,176.9 75.4,176.9 75.9,176.4 76.4,176.2 76.9,176.2 77.4,176.6 77.9,177.1 78.4,176.3 78.9,175.7 79.4,175.9 79.9,176.1 80.4,176.4 80.9,176.3 81.4,175.6 81.9,176.2 82.4,176.5 82.9,175.9 83.4,175.1 83.9,175.9 84.4,176.6 84.9,176.4 85.4,176.1 85.9,175.7 86.4,175.4 86.9,175.2 87.4,175.0 87.8,174.8 88.3,174.0 88.8,173.0 88.9,172.8 89.1,172.5 89.3,172.1 89.3,171.9 89.4,171.7 89.6,171.3 89.8,170.8 89.8,170.5 89.9,170.1 90.1,169.3 90.2,168.2 90.3,167.6 90.4,166.8 90.6,165.0 90.7,162.7 90.8,161.5 90.9,160.1 91.1,157.4 91.2,155.1 91.3,154.5 91.4,154.3 91.6,155.5 91.7,157.8 91.8,159.3 91.9,160.7 92.1,163.4 92.2,165.6 92.3,166.5 92.4,167.3 92.6,168.6 92.7,169.6 92.8,170.0 92.9,170.3 93.1,170.8 93.2,171.2 93.3,171.4 93.4,171.6 93.6,171.8 93.7,171.9 93.8,172.0 93.9,172.1 94.3,172.4 94.8,173.3 95.3,174.0 95.8,174.5 96.3,174.8 96.8,175.0 97.3,175.0 97.8,174.7 98.3,175.1 98.8,175.7 99.3,175.6 99.8,175.3 100.3,174.4 100.8,173.7 101.3,174.3 101.7,174.4 102.2,173.5 102.7,173.1 103.2,173.6 103.7,174.6 104.2,175.6 104.7,175.9 105.2,176.0 105.7,175.8 106.2,175.6 106.7,175.5 107.2,175.1 107.7,175.1 108.2,175.0 108.7,174.7 109.2,174.9 109.7,175.5 110.2,175.2 110.7,174.5 111.2,173.6 111.3,173.2 111.7,172.6 112.0,173.0 112.2,173.4 112.7,174.2 113.2,174.2 113.7,174.1 114.2,174.2 114.7,173.5 115.2,172.0 115.5,170.8 115.6,170.4 115.8,170.2 116.1,170.7 116.6,172.6 117.1,173.9 117.6,174.5 118.1,175.0 118.6,175.9 119.1,176.6 119.6,176.9 120.1,176.9 120.6,176.7 121.1,176.4 121.6,176.0 122.1,176.3 122.6,176.5 123.1,176.7 123.6,176.8 124.1,176.9 124.6,176.6 125.1,175.9 125.6,175.8 126.1,175.9 126.6,175.7 127.1,175.4 127.6,175.1 128.1,175.0 128.6,175.6 129.1,176.1 129.6,176.6 130.0,176.9 130.5,177.1 131.0,177.2 131.5,177.2 132.0,177.1 132.5,177.4 133.0,177.9 133.5,178.2 134.0,177.8 134.5,177.5 135.0,177.3 135.5,177.5 136.0,178.2 136.5,178.2 137.0,177.9 137.5,178.1 138.0,178.1 138.5,176.5 138.7,175.7 139.0,174.7 139.3,176.3 139.5,177.3 140.0,179.1 140.5,178.9 141.0,178.8 141.5,179.0 142.0,179.5 142.5,180.1 143.0,180.5 143.5,180.8 143.9,180.1 144.1,179.8 144.3,179.5 144.4,179.4 144.6,179.6 144.8,179.6 144.9,179.7 145.1,179.6 145.3,179.4 145.4,178.8 145.6,178.1 145.8,177.2 145.9,176.1 146.1,175.1 146.3,174.3 146.4,173.9 146.6,174.2 146.8,175.0 146.9,176.0 147.1,177.0 147.3,177.8 147.4,178.5 147.6,179.1 147.8,179.4 147.9,179.7 148.1,179.8 148.2,179.8 148.4,179.7 148.6,179.6 148.7,179.5 148.9,179.4 149.4,179.7 149.9,180.0 150.4,180.2 150.9,180.5 151.4,180.9 151.9,181.1 152.4,180.9 152.9,180.7 153.4,180.6 153.9,180.7 154.4,180.9 154.9,180.4 155.4,180.1 155.9,180.6 156.4,180.9 156.9,180.7 157.4,181.1 157.8,181.9 158.3,182.1 158.8,182.0 159.3,181.9 159.8,181.9 160.3,182.2 160.8,182.2 161.3,181.9 161.8,181.8 162.3,182.2 162.8,182.3 163.3,181.9 163.8,181.9 164.3,182.1 164.8,182.4 165.3,182.7 165.8,182.5 166.3,182.3 166.8,182.2 167.3,182.2 167.8,182.6 168.3,182.8 168.8,182.5 169.3,182.4 169.8,182.3 170.3,181.7 170.8,180.8 171.3,179.6 171.7,178.6 172.1,178.9 172.2,179.2 172.4,179.5 172.7,180.0 173.2,180.3 173.7,180.4 174.2,180.2 174.7,180.9 175.2,181.9 175.7,182.0 176.2,181.9 176.7,181.7 177.2,181.7 177.7,182.5 178.2,182.8 178.7,182.4 179.2,182.4 179.7,182.5 180.2,182.6 180.7,182.7 181.2,183.3 181.7,183.9 182.2,183.5 182.7,183.1 183.2,183.0 183.7,182.8 184.2,182.7 184.7,182.7 185.2,182.8 185.6,182.9 186.1,182.9 186.6,183.2 187.1,183.6 187.6,183.7 188.1,183.8 188.6,184.4 189.1,184.5 189.6,184.0 190.1,184.0 190.6,184.5 191.1,184.4 191.6,183.7 192.1,183.3 192.6,183.6 193.1,184.0 193.6,184.2 194.1,184.3 194.6,184.4 195.1,184.5 195.6,184.5 196.1,184.7 196.6,184.7 197.1,184.6 197.6,184.2 198.1,183.8 198.6,184.2 199.1,184.6 199.5,185.4 200.0,185.8 200.5,185.4 201.0,184.9 201.5,184.4 202.0,184.7 202.5,185.3 203.0,185.5 203.2,185.6 203.4,185.6 203.5,185.6 203.7,185.4 203.9,185.2 204.0,184.8 204.2,184.4 204.3,183.8 204.5,183.1 204.7,182.1 204.8,181.0 205.0,179.7 205.2,178.3 205.3,176.9 205.5,176.0 205.7,175.7 205.8,176.0 206.0,176.9 206.2,178.2 206.3,179.5 206.5,180.8 206.7,181.8 206.8,182.7 207.0,183.4 207.2,184.0 207.3,184.3 207.5,184.4 207.7,184.5 207.8,184.6 208.0,184.6 208.2,184.6 208.5,184.6 209.0,184.7 209.5,185.8 210.0,186.5 210.5,186.2 211.0,186.1 211.5,186.6 212.0,186.5 212.5,185.9 213.0,185.9 213.4,186.1 213.9,186.1 214.4,185.9 214.9,186.2 215.4,186.3 215.9,186.0 216.4,185.7 216.9,185.3 217.3,185.1 217.4,184.9 217.6,184.8 217.9,184.9 218.4,185.4 218.9,185.9 219.4,186.3 219.9,186.6 220.4,186.2 220.9,185.9 221.4,186.3 221.9,186.4 222.4,186.3 222.9,186.2 223.4,186.1 223.9,186.3 224.4,186.7 224.9,187.1 225.4,187.5 225.9,186.5 226.4,185.8 226.9,186.8 227.3,187.5 227.8,187.7 228.3,187.6 228.8,187.0 229.3,186.9 229.8,187.1 230.3,187.1 230.8,187.0 231.3,186.6 231.8,186.1 232.3,185.7 232.8,185.7 233.3,186.2 233.8,186.2 234.3,185.9 234.8,185.6 235.3,185.5 235.8,185.9 236.3,186.2 236.8,185.8 237.3,185.4 237.8,185.5 238.3,185.9 238.8,186.5 239.3,186.8 239.8,186.8 240.3,186.7 240.8,186.5 241.2,186.8 241.7,187.3 242.2,187.0 242.7,186.7 243.2,186.6 243.7,186.5 244.2,185.8 244.7,185.6 245.2,185.6 245.7,185.2 246.2,184.1 246.5,183.3 246.7,182.6 246.8,182.5 247.1,183.0 247.2,183.2 247.7,184.6 248.2,185.7 248.7,186.3 249.2,186.4 249.7,185.8 250.2,185.4 250.7,185.3 251.2,185.1 251.7,184.7 252.2,184.3 252.7,183.6 252.8,183.6 253.2,183.6 253.5,184.0 253.7,184.2 254.2,184.2 254.7,184.1 255.1,183.8 255.6,183.6 256.1,183.4 256.5,182.7 256.6,181.9 256.8,180.8 257.0,179.4 257.1,177.5 257.3,175.0 257.5,171.8 257.6,167.8 257.8,162.9 258.0,157.4 258.1,151.2 258.3,144.9 258.5,138.8 258.6,133.7 258.8,130.2 259.0,128.9 259.1,130.2 259.3,133.8 259.5,139.0 259.6,145.1 259.8,151.5 259.9,157.7 260.1,163.3 260.3,168.1 260.4,172.1 260.6,175.3 260.8,177.7 260.9,179.6 261.1,180.9 261.3,181.9 261.4,182.5 261.6,183.0 261.7,183.2 261.9,183.4 262.0,183.4 262.1,183.4 262.2,183.4 262.3,183.3 262.5,183.2 262.6,183.0 262.7,182.9 262.8,182.6 263.0,182.1 263.1,181.8 263.2,181.5 263.3,180.5 263.5,179.3 263.6,178.6 263.7,177.9 263.8,176.5 264.0,175.4 264.1,175.1 264.2,175.0 264.3,175.6 264.5,176.9 264.6,177.7 264.7,178.4 264.8,179.9 265.0,181.2 265.1,181.7 265.2,182.2 265.3,183.0 265.5,183.6 265.6,183.8 265.7,184.0 265.8,184.3 266.0,184.6 266.1,184.7 266.2,184.8 266.3,184.9 266.5,185.0 266.6,185.1 266.7,185.1 267.1,185.3 267.6,185.8 268.1,186.4 268.6,185.9 269.0,185.2 269.5,185.4 270.0,185.4 270.5,185.2 271.0,185.1 271.5,185.2 272.0,184.9 272.5,184.3 273.0,184.0 273.5,183.8 274.0,184.3 274.5,184.8 275.0,184.5 275.5,184.2 276.0,183.8 276.5,183.4 277.0,183.1 277.5,183.1 278.0,183.6 278.5,183.4 279.0,182.9 279.5,182.2 279.6,181.9 279.8,181.5 280.0,181.1 280.1,180.6 280.3,179.9 280.5,178.8 280.6,177.2 280.8,174.6 281.0,170.9 281.1,165.9 281.3,159.5 281.5,151.9 281.6,143.8 281.8,136.2 282.0,130.8 282.1,128.8 282.3,130.9 282.5,136.5 282.6,144.1 282.8,152.0 283.0,159.1 283.1,165.1 283.3,169.6 283.4,172.6 283.6,174.3 283.8,174.9 283.9,174.3 284.1,172.7 284.3,169.8 284.4,165.5 284.6,160.1 284.8,153.5 284.9,146.5 285.1,139.9 285.3,135.0 285.4,133.1 285.6,135.0 285.8,140.0 285.9,146.8 286.1,154.0 286.3,160.9 286.4,166.6 286.6,171.1 286.8,174.4 286.9,176.7 287.1,178.2 287.3,179.1 287.4,179.6 287.6,179.9 287.7,180.0 287.9,180.1 288.4,180.0 288.9,179.4 289.4,178.6 289.9,177.7 290.1,177.3 290.4,177.1 290.7,177.6 290.9,178.0 291.4,179.1 291.9,180.0 292.4,180.2 292.9,179.8 293.4,178.8 293.8,177.7 293.9,177.5 294.1,177.2 294.4,177.3 294.5,177.4 294.5,177.6 294.7,177.9 294.9,178.3 295.0,178.6 295.2,178.7 295.4,178.8 295.5,178.8 295.7,178.7 295.9,178.5 296.0,178.2 296.2,177.8 296.4,177.4 296.5,177.1 296.7,176.9 296.9,176.7 297.0,176.7 297.2,176.8 297.3,177.1 297.4,177.3 297.5,177.4 297.6,177.6 297.7,177.8 297.8,177.9 297.8,178.0 297.9,178.1 298.0,178.0 298.1,177.9 298.2,177.7 298.3,177.4 298.3,177.0 298.4,176.4 298.5,175.7 298.6,174.7 298.7,173.6 298.8,172.2 298.8,170.6 298.9,168.8 299.0,166.8 299.1,164.6 299.2,162.2 299.2,159.7 299.3,157.2 299.4,154.7 299.5,152.3 299.6,150.1 299.7,146.9 299.8,146.1 299.9,145.9 300.1,147.2 300.2,150.6 300.3,152.9 300.4,155.4 300.6,160.7 300.7,165.9 300.8,168.3 300.9,170.5 301.1,174.6 301.2,178.0 301.3,179.3 301.4,180.5 301.6,182.4 301.7,183.8 301.8,184.3 301.9,184.6 302.1,185.0 302.2,185.2 302.3,185.3 302.4,185.3 302.8,185.5 303.3,186.4 303.8,186.5 304.3,185.7 304.8,185.5 305.0,185.5 305.3,185.7 305.6,186.2 305.8,186.5 306.3,187.6 306.8,188.2 307.3,188.6 307.8,188.4 308.3,188.2 308.8,188.6 309.3,188.7 309.8,188.5 310.3,188.6 310.8,189.0 311.2,189.3 311.7,189.6 312.2,189.5 312.7,189.3 313.2,190.0 313.7,190.4 314.2,189.9 314.7,189.5 315.2,189.4 315.7,189.2 316.2,188.7 316.7,188.4 316.9,188.4 317.0,188.3 317.2,188.1 317.4,188.0 317.5,187.8 317.7,187.6 317.9,187.3 318.0,187.0 318.2,186.6 318.4,186.1 318.5,185.6 318.7,185.1 318.9,184.5 319.0,184.0 319.2,183.7 319.4,183.6 319.5,183.7 319.7,184.1 319.9,184.6 320.0,185.2 320.2,185.7 320.3,186.2 320.5,186.6 320.7,187.0 320.8,187.3 321.0,187.5 321.2,187.8 321.3,187.9 321.5,188.1 321.7,188.2 321.8,188.2 322.2,188.2 322.7,188.1 323.2,188.8 323.7,189.6 324.2,189.2 324.7,188.9 325.1,188.9 325.6,188.7 326.1,188.2 326.6,188.5 327.1,189.3 327.6,189.4 328.1,189.1 328.6,189.2 329.1,189.3 329.6,189.3 330.1,189.2 330.6,189.0 331.1,189.0 331.6,189.6 332.1,189.8 332.6,189.6 333.1,189.4 333.6,189.2 334.0,188.7 334.1,188.6 334.2,188.4 334.3,188.1 334.5,187.7 334.6,187.5 334.7,187.3 334.8,186.8 335.0,186.3 335.1,186.0 335.2,185.7 335.3,185.0 335.5,184.2 335.6,183.8 335.7,183.4 335.8,182.7 336.0,182.0 336.1,181.6 336.2,181.4 336.3,181.0 336.5,180.9 336.6,181.0 336.6,181.2 336.8,181.9 337.0,182.7 337.1,183.2 337.1,183.7 337.3,184.6 337.5,185.5 337.6,185.9 337.6,186.3 337.8,187.0 338.0,187.6 338.1,187.8 338.1,188.1 338.3,188.3 338.5,188.4 338.6,188.4 338.6,188.4 338.8,188.3 339.0,188.1 339.0,188.1 339.5,188.0 340.0,187.8 340.5,186.9 341.0,186.1 341.4,185.8 341.5,185.8 341.7,185.8 342.0,186.1 342.5,186.9 343.0,187.6 343.5,187.7 344.0,188.0 344.5,188.8 345.0,189.6 345.5,190.1 346.0,189.8 346.5,189.3 347.0,188.8 347.5,188.2 348.0,188.7 348.5,189.6 349.0,189.6 349.5,189.5 350.0,189.3 350.5,189.1 351.0,188.8 351.5,188.2 352.0,187.6 352.5,187.2 352.6,187.0 352.8,186.8 352.9,186.3 353.1,185.9 353.3,185.4 353.4,184.9 353.6,184.4 353.8,184.1 353.9,183.9 354.1,183.8 354.3,183.7 354.4,183.6 354.6,183.6 354.8,183.3 354.9,183.1 355.1,183.0 355.3,182.9 355.3,182.8 355.4,182.8 355.5,182.7 355.6,182.8 355.7,182.8 355.8,182.9 355.8,182.9 355.9,182.9 356.0,182.9 356.1,182.8 356.2,182.7 356.3,182.5 356.3,182.3 356.4,181.9 356.5,181.4 356.6,180.7 356.7,179.9 356.8,178.9 356.8,177.7 356.9,176.4 357.0,174.9 357.1,173.2 357.2,171.5 357.3,169.6 357.3,167.8 357.4,165.9 357.5,164.2 357.7,161.5 357.8,160.6 357.9,160.9 358.0,161.8 358.2,164.6 358.3,168.6 358.4,170.8 358.5,172.9 358.7,177.0 358.8,180.5 358.9,182.0 359.0,183.3 359.2,185.3 359.3,186.5 359.4,186.9 359.5,187.2 359.7,187.6 359.8,187.9 359.9,187.9 360.0,188.0 360.1,188.1 360.3,188.2 360.4,188.2 360.9,188.3 361.4,188.7 361.9,189.0 362.4,189.1 362.9,189.1 363.4,189.2 363.9,189.4 364.4,189.5 364.9,189.7 365.4,189.8 365.9,190.1 366.4,190.6 366.8,190.2 367.3,189.6 367.8,190.1 368.3,190.3 368.8,189.6 369.3,188.7 369.8,187.8 370.3,186.8 370.7,186.2 370.8,186.2 371.0,186.2 371.3,187.0 371.8,188.2 372.3,187.8 372.8,186.9 373.3,187.0 373.6,187.0 373.8,187.1 374.0,187.1 374.3,187.4 374.8,187.9 375.3,188.5 375.8,188.7 376.3,188.4 376.8,188.8 377.3,189.3 377.8,189.5 378.3,189.4 378.8,188.4 379.3,187.4 379.8,186.4 380.3,186.1 380.6,186.7 380.7,187.1 380.9,187.5 381.2,187.9 381.7,188.3 382.2,189.0 382.7,189.6 383.2,190.4 383.7,191.1 384.2,191.2 384.7,191.2 385.2,190.8 385.7,190.6 386.2,190.6 386.7,190.2 387.2,189.6 387.7,190.1 388.2,190.6 388.7,190.5 389.2,190.3 389.7,190.1 390.2,189.7 390.7,188.8 391.2,188.6 391.7,188.6 392.2,187.8 392.7,186.6 393.2,185.8 393.5,185.5 393.7,185.5 393.8,185.5 394.2,185.9 394.6,187.2 395.1,188.0 395.6,188.6 396.1,189.9 396.6,190.6 397.1,190.3 397.6,190.5 398.1,191.2 398.6,191.2 399.1,191.0 399.6,190.9 400.1,190.9 400.6,190.7 401.1,190.6 401.6,191.1 402.1,191.1 402.6,190.1 403.1,189.6 403.6,189.4 404.1,188.5 404.6,187.4 404.7,187.2 405.0,187.1 405.1,187.1 405.3,187.4 405.6,187.9 406.1,188.0 406.6,187.8 407.1,187.3 407.6,186.5 408.1,185.8 408.5,185.7 409.0,185.9 409.2,186.0 409.5,186.1 409.9,186.2 410.0,186.2 410.5,187.1 411.0,188.2 411.5,188.2 412.0,188.2 412.5,188.0 413.0,188.2 413.5,189.1 414.0,189.6 414.5,189.7 415.0,190.1 415.5,190.6 416.0,190.6 416.5,190.4 417.0,190.0 417.5,189.2 418.0,189.0 418.3,188.8 418.5,188.8 418.6,188.8 419.0,189.0 419.5,189.3 420.0,189.4 420.5,189.6 421.0,189.6 421.5,189.5 422.0,189.2 422.4,189.5 422.9,189.7 423.4,190.0 423.9,190.2 424.4,190.4 424.9,190.2 425.4,189.6 425.9,189.1 426.4,188.6 426.9,188.6 427.4,188.8 427.7,188.1 427.9,187.8 428.1,187.5 428.4,187.3 428.9,187.8 429.4,188.2" fill="none" stroke="#A5A5A5" stroke-width="1.6" stroke-linejoin="round" stroke-linecap="round"/>
<polyline points="57.1,192.2 57.6,192.3 58.1,192.4 58.6,192.7 59.1,192.9 59.6,193.1 60.0,193.3 60.5,193.4 61.0,193.4 61.5,193.7 62.0,194.3 62.5,194.6 63.0,194.5 63.5,194.4 64.0,194.7 64.5,194.5 65.0,194.1 65.5,194.7 66.0,195.5 66.5,195.8 67.0,196.0 67.5,195.4 68.0,195.1 68.5,195.7 69.0,196.3 69.5,196.8 70.0,197.0 70.5,196.9 71.0,196.7 71.5,196.5 72.0,196.4 72.5,196.3 73.0,196.5 73.5,196.5 73.9,196.2 74.4,196.4 74.9,197.0 75.4,197.2 75.9,197.0 76.4,197.1 76.9,197.4 77.4,197.3 77.9,197.1 78.4,196.7 78.9,196.4 79.4,196.2 79.9,196.1 80.4,196.2 80.9,196.3 81.4,196.4 81.9,196.1 82.4,195.7 82.9,196.0 83.4,196.6 83.9,196.1 84.4,195.6 84.9,195.9 85.4,196.0 85.9,195.7 86.4,195.6 86.9,195.7 87.4,195.6 87.8,195.2 88.3,194.8 88.8,194.2 88.9,194.1 89.1,193.8 89.3,193.5 89.3,193.3 89.4,193.2 89.6,192.8 89.8,192.3 89.8,192.2 89.9,191.9 90.1,191.4 90.2,190.6 90.3,190.1 90.4,189.5 90.6,188.1 90.7,186.2 90.8,185.1 90.9,183.9 91.1,181.5 91.2,179.4 91.3,178.8 91.4,178.6 91.6,179.5 91.7,181.6 91.8,182.9 91.9,184.2 92.1,186.7 92.2,188.7 92.3,189.6 92.4,190.4 92.6,191.5 92.7,192.1 92.8,192.3 92.9,192.5 93.1,192.8 93.2,192.9 93.3,193.0 93.4,193.0 93.6,193.4 93.7,193.6 93.8,193.8 93.9,193.9 94.3,194.5 94.8,194.8 95.3,194.9 95.8,194.5 96.3,194.3 96.8,194.4 97.3,194.2 97.8,193.6 98.3,193.8 98.8,194.3 99.3,194.7 99.8,195.1 100.3,194.7 100.8,194.3 101.3,194.6 101.7,195.0 102.2,195.2 102.7,195.3 103.2,195.2 103.7,195.1 104.2,194.9 104.7,195.0 105.2,195.2 105.7,194.9 106.2,194.7 106.7,194.6 107.2,194.9 107.7,195.6 108.2,195.4 108.7,194.4 109.2,194.3 109.7,194.4 110.2,194.6 110.7,194.7 111.2,194.4 111.3,194.2 111.7,193.9 112.0,194.2 112.2,194.5 112.7,195.1 113.2,194.9 113.7,194.8 114.2,194.5 114.7,194.0 115.2,192.7 115.5,191.8 115.6,191.6 115.8,191.6 116.1,192.5 116.6,194.3 117.1,195.4 117.6,195.5 118.1,195.4 118.6,195.6 119.1,195.8 119.6,196.1 120.1,196.1 120.6,196.1 121.1,196.3 121.6,196.6 122.1,197.1 122.6,197.5 123.1,197.0 123.6,196.7 124.1,197.1 124.6,197.5 125.1,197.9 125.6,197.7 126.1,197.3 126.6,197.8 127.1,198.5 127.6,198.2 128.1,198.0 128.6,197.9 129.1,197.9 129.6,198.3 130.0,198.4 130.5,198.2 131.0,198.1 131.5,198.1 132.0,198.1 132.5,198.0 133.0,198.0 133.5,198.1 134.0,198.2 134.5,198.4 135.0,198.5 135.5,198.7 136.0,198.9 136.5,198.8 137.0,198.6 137.5,198.5 138.0,198.2 138.5,196.3 138.7,195.2 139.0,193.9 139.3,195.4 139.5,196.4 140.0,198.4 140.5,198.8 141.0,199.2 141.5,199.7 142.0,199.8 142.5,199.6 143.0,199.1 143.5,198.5 143.9,198.8 144.1,198.9 144.3,198.9 144.4,198.9 144.6,198.7 144.8,198.6 144.9,198.4 145.1,198.2 145.3,197.8 145.4,197.5 145.6,197.1 145.8,196.4 145.9,195.7 146.1,195.0 146.3,194.3 146.4,194.0 146.6,194.2 146.8,194.9 146.9,195.7 147.1,196.6 147.3,197.5 147.4,198.2 147.6,198.8 147.8,199.3 147.9,199.7 148.1,199.9 148.2,200.1 148.4,200.3 148.6,200.4 148.7,200.5 148.9,200.5 149.4,200.3 149.9,200.2 150.4,200.3 150.9,200.3 151.4,200.3 151.9,200.3 152.4,200.4 152.9,201.3 153.4,202.6 153.9,202.1 154.4,201.2 154.9,200.5 155.4,199.7 155.9,199.7 156.4,200.1 156.9,200.9 157.4,201.2 157.8,201.3 158.3,201.2 158.8,201.0 159.3,201.1 159.8,201.2 160.3,201.8 160.8,202.2 161.3,202.0 161.8,201.9 162.3,201.8 162.8,201.4 163.3,200.7 163.8,200.5 164.3,200.6 164.6,200.4 164.8,200.4 165.0,200.5 165.3,200.6 165.8,201.9 166.3,202.7 166.8,202.5 167.3,202.3 167.8,202.3 168.3,202.6 168.8,203.2 169.3,202.8 169.8,201.9 170.3,202.0 170.8,202.2 171.3,201.8 171.7,201.4 172.1,201.5 172.2,201.7 172.4,201.9 172.7,202.0 173.2,201.7 173.7,202.0 174.2,202.7 174.7,203.1 175.2,203.2 175.7,203.2 176.2,203.1 176.7,203.3 177.2,203.3 177.7,203.4 178.2,203.2 178.7,203.0 179.2,203.1 179.7,203.5 180.2,203.6 180.7,203.4 181.2,204.1 181.7,205.0 182.2,205.1 182.7,205.1 183.2,204.5 183.7,204.4 184.2,205.2 184.7,205.5 185.2,205.2 185.6,204.8 186.1,204.4 186.6,204.5 187.1,204.7 187.6,205.1 188.1,205.4 188.6,205.2 189.1,204.9 189.6,204.7 190.1,205.1 190.6,205.8 191.1,206.1 191.6,206.1 192.1,206.2 192.6,206.4 193.1,206.4 193.6,206.6 194.1,207.0 194.6,207.4 195.1,207.4 195.6,207.2 196.1,206.6 196.6,206.5 197.1,206.7 197.6,206.7 198.1,206.7 198.6,206.7 199.1,206.7 199.5,206.2 200.0,206.0 200.5,206.5 201.0,206.5 201.5,206.4 202.0,206.6 202.5,206.9 203.0,206.6 203.2,206.5 203.4,206.3 203.5,206.1 203.7,206.2 203.9,206.3 204.0,206.2 204.2,206.1 204.3,205.9 204.5,205.3 204.7,204.3 204.8,203.2 205.0,201.8 205.2,200.4 205.3,199.1 205.5,197.9 205.7,197.4 205.8,197.6 206.0,198.3 206.2,199.3 206.3,200.6 206.5,202.1 206.7,203.3 206.8,204.4 207.0,205.3 207.2,206.1 207.3,206.4 207.5,206.5 207.7,206.6 207.8,206.7 208.0,206.7 208.2,206.7 208.5,206.6 209.0,206.4 209.5,206.7 210.0,207.0 210.5,206.7 211.0,206.7 211.5,207.1 212.0,207.3 212.5,207.2 213.0,206.8 213.4,206.2 213.9,206.5 214.4,207.1 214.9,207.3 215.4,207.3 215.9,206.4 216.4,205.9 216.9,206.5 217.3,206.6 217.4,206.4 217.6,206.3 217.9,206.6 218.4,207.4 218.9,208.0 219.4,208.3 219.9,208.6 220.4,208.2 220.9,207.7 221.4,207.4 221.9,207.1 222.4,207.5 222.9,207.8 223.4,207.9 223.9,208.0 224.4,208.3 224.9,207.7 225.4,207.0 225.9,207.6 226.4,208.2 226.9,209.1 227.3,209.4 227.8,208.8 228.3,208.6 228.8,208.8 229.3,208.7 229.8,208.5 230.3,208.3 230.8,208.1 231.3,208.3 231.8,208.5 232.3,208.3 232.8,208.1 233.3,207.7 233.8,207.4 234.3,207.3 234.8,207.4 235.3,207.6 235.8,207.3 236.3,206.8 236.8,206.8 237.3,206.7 237.8,207.2 238.3,207.6 238.8,207.8 239.3,207.8 239.8,207.6 240.3,207.9 240.8,208.4 241.2,208.3 241.7,208.1 242.2,208.1 242.7,208.2 243.2,208.1 243.7,208.1 244.2,208.5 244.7,208.4 245.2,208.0 245.7,207.7 246.2,207.0 246.5,206.4 246.7,205.8 246.8,205.8 247.1,206.2 247.2,206.4 247.7,207.8 248.2,208.5 248.7,208.2 249.2,207.9 249.7,207.7 250.2,207.6 250.7,207.6 251.2,207.8 251.7,208.0 252.2,207.4 252.7,206.4 252.8,205.9 253.2,205.2 253.5,204.8 253.7,204.9 254.2,205.7 254.7,206.0 255.1,205.9 255.6,205.4 256.1,204.6 256.5,203.6 256.6,202.8 256.8,201.8 257.0,200.4 257.1,198.4 257.3,196.0 257.5,193.0 257.6,189.2 257.8,184.5 258.0,179.1 258.1,173.2 258.3,166.7 258.5,160.6 258.6,155.3 258.8,151.7 259.0,150.3 259.1,151.5 259.3,155.0 259.5,160.1 259.6,166.2 259.8,172.5 259.9,178.6 260.1,184.1 260.3,188.8 260.4,192.7 260.6,195.8 260.8,198.2 260.9,200.1 261.1,201.6 261.3,202.6 261.4,203.3 261.6,203.8 261.7,204.0 261.9,204.3 262.0,204.4 262.1,204.4 262.2,204.4 262.3,204.3 262.5,204.2 262.6,204.1 262.7,203.9 262.8,203.5 263.0,202.9 263.1,202.5 263.2,202.0 263.3,200.8 263.5,199.2 263.6,198.3 263.7,197.4 263.8,195.5 264.0,194.0 264.1,193.6 264.2,193.5 264.3,194.1 264.5,195.6 264.6,196.6 264.7,197.5 264.8,199.3 265.0,200.8 265.1,201.5 265.2,202.0 265.3,202.9 265.5,203.5 265.6,203.8 265.7,204.0 265.8,204.3 266.0,204.5 266.1,204.6 266.2,204.7 266.3,205.0 266.5,205.3 266.6,205.5 266.7,205.6 267.1,206.3 267.6,206.5 268.1,206.5 268.6,206.8 269.0,207.1 269.5,206.7 270.0,206.4 270.5,206.8 271.0,206.9 271.5,206.2 272.0,206.0 272.5,206.3 273.0,206.4 273.5,206.5 274.0,206.2 274.5,205.8 275.0,205.2 275.5,204.7 276.0,205.0 276.5,205.0 277.0,204.5 277.5,204.2 278.0,204.1 278.5,203.8 279.0,203.3 279.5,202.4 279.6,202.1 279.8,201.7 280.0,201.2 280.1,200.9 280.3,200.5 280.5,199.7 280.6,198.4 280.8,196.2 281.0,192.6 281.1,187.4 281.3,180.4 281.5,171.9 281.6,162.4 281.8,153.3 282.0,146.5 282.1,143.9 282.3,146.4 282.5,153.2 282.6,162.1 282.8,171.3 283.0,179.5 283.1,186.1 283.3,190.9 283.4,194.1 283.6,195.9 283.8,196.8 283.9,196.8 284.1,195.8 284.3,193.8 284.4,190.4 284.6,185.6 284.8,179.4 284.9,172.6 285.1,166.0 285.3,161.0 285.4,159.0 285.6,160.8 285.8,165.6 285.9,172.0 286.1,178.7 286.3,184.7 286.4,189.7 286.6,193.5 286.8,196.1 286.9,197.9 287.1,199.1 287.3,199.8 287.4,200.4 287.6,200.8 287.7,201.1 287.9,201.4 288.4,201.6 288.9,201.2 289.4,200.7 289.9,200.0 290.1,199.6 290.4,199.0 290.7,199.2 290.9,199.5 291.4,200.9 291.6,201.4 291.8,201.7 291.9,201.7 292.0,201.8 292.1,201.7 292.3,201.6 292.4,201.5 292.5,201.4 292.6,201.1 292.8,200.7 292.9,200.5 293.0,200.3 293.1,199.8 293.3,199.2 293.4,198.9 293.5,198.6 293.6,197.9 293.8,197.3 293.9,197.1 294.0,196.9 294.1,196.8 294.3,196.8 294.4,196.9 294.5,197.1 294.5,197.3 294.6,197.6 294.7,197.9 294.8,198.2 294.9,198.5 294.9,198.8 295.0,199.1 295.1,199.3 295.2,199.5 295.3,199.7 295.4,199.8 295.4,200.0 295.5,200.0 295.6,200.1 295.7,200.1 295.8,200.1 295.9,200.0 295.9,200.0 296.0,199.9 296.1,199.8 296.2,199.6 296.3,199.5 296.4,199.3 296.4,199.1 296.5,198.9 296.6,198.7 296.7,198.5 296.9,198.2 297.0,198.2 297.2,198.2 297.3,198.3 297.4,198.4 297.5,198.4 297.6,198.5 297.7,198.5 297.8,198.5 297.8,198.5 297.9,198.4 298.0,198.2 298.1,198.0 298.2,197.6 298.3,197.3 298.3,196.9 298.4,196.3 298.5,195.5 298.6,194.6 298.7,193.3 298.8,191.9 298.8,190.2 298.9,188.3 299.0,186.1 299.1,183.7 299.2,181.2 299.2,178.5 299.3,175.7 299.4,173.0 299.5,170.5 299.6,168.1 299.7,164.7 299.8,163.8 299.9,163.6 300.1,165.0 300.2,168.6 300.3,171.1 300.4,173.7 300.6,179.4 300.7,185.0 300.8,187.6 300.9,190.0 301.1,194.3 301.2,197.8 301.3,199.3 301.4,200.5 301.6,202.4 301.7,203.8 301.8,204.4 301.9,204.7 302.1,205.3 302.2,205.7 302.3,205.8 302.4,206.0 302.8,206.5 303.3,207.2 303.8,207.5 304.3,207.2 304.8,206.7 305.0,206.5 305.3,206.3 305.6,206.5 305.8,206.8 306.3,207.5 306.8,207.9 307.3,208.1 307.8,208.5 308.3,208.7 308.8,207.8 309.3,207.6 309.8,208.8 310.3,209.5 310.8,209.7 311.2,209.4 311.7,208.9 312.2,209.1 312.7,209.5 313.2,209.8 313.7,209.9 314.2,209.5 314.7,209.1 315.2,209.2 315.7,209.4 316.2,209.6 316.7,209.6 317.2,209.5 317.7,208.5 318.2,207.1 318.7,206.5 319.0,206.1 319.2,205.9 319.4,205.9 319.7,206.4 320.2,207.6 320.7,208.2 321.2,208.9 321.7,209.6 322.2,210.3 322.7,211.0 323.2,210.9 323.7,210.7 324.2,210.9 324.7,211.1 325.1,211.8 325.6,212.1 326.1,211.6 326.6,211.1 327.1,211.0 327.6,211.1 328.1,211.4 328.6,211.3 329.1,211.2 329.6,210.2 330.1,209.3 330.6,209.7 331.1,210.0 331.6,210.2 332.1,210.5 332.6,210.7 333.1,210.6 333.6,210.3 334.0,209.9 334.1,209.8 334.2,209.6 334.3,209.4 334.5,209.1 334.6,208.9 334.7,208.8 334.8,208.6 335.0,208.3 335.1,208.2 335.2,208.0 335.3,207.5 335.5,207.0 335.6,206.5 335.7,206.0 335.8,205.0 336.0,204.0 336.1,203.5 336.2,203.1 336.3,202.4 336.5,202.3 336.6,202.4 336.6,202.7 336.8,203.3 337.0,204.2 337.1,204.7 337.1,205.2 337.3,206.2 337.5,207.0 337.6,207.4 337.6,207.8 337.8,208.4 338.0,209.0 338.1,209.3 338.1,209.5 338.3,209.9 338.5,210.2 338.6,210.4 338.6,210.5 338.8,210.7 339.0,210.8 339.0,210.9 339.5,210.8 340.0,210.4 340.5,209.5 341.0,208.7 341.4,208.9 341.5,209.1 341.7,209.3 342.0,209.6 342.5,209.8 343.0,210.1 343.5,210.4 344.0,211.0 344.5,211.5 345.0,210.7 345.5,209.6 346.0,210.7 346.5,211.5 347.0,211.0 347.5,210.7 348.0,210.8 348.5,210.8 349.0,210.6 349.5,210.7 350.0,210.9 350.5,210.8 351.0,210.5 351.5,210.1 352.0,209.4 352.5,208.3 352.9,207.5 353.4,207.3 353.9,206.8 354.4,206.1 354.6,206.0 354.9,205.9 355.3,205.8 355.3,205.8 355.4,205.8 355.5,205.9 355.7,205.7 355.8,205.6 355.9,205.5 356.0,205.4 356.2,205.0 356.3,204.3 356.4,203.8 356.5,203.2 356.7,201.6 356.8,199.4 356.9,198.0 357.0,196.5 357.2,193.1 357.3,189.3 357.4,187.5 357.5,185.8 357.7,183.3 357.8,182.4 357.9,182.7 358.0,183.5 358.2,186.2 358.3,189.9 358.4,191.7 358.5,193.6 358.7,197.1 358.8,200.1 358.9,201.3 359.0,202.3 359.2,204.0 359.3,205.3 359.4,205.7 359.5,206.1 359.7,206.7 359.8,207.1 359.9,207.2 360.0,207.3 360.1,207.6 360.3,207.9 360.4,208.1 360.9,209.1 361.4,209.5 361.9,209.7 362.4,210.3 362.9,210.7 363.4,210.4 363.9,210.1 364.4,210.2 364.9,210.5 365.4,210.8 365.9,210.7 366.4,210.4 366.8,210.0 367.3,209.6 367.8,209.8 368.3,209.8 368.8,209.2 369.3,208.2 369.8,206.4 370.3,204.8 370.7,204.6 370.8,204.8 371.0,205.1 371.3,206.0 371.8,207.3 372.3,207.9 372.8,208.2 373.3,208.3 373.6,208.4 373.8,208.4 374.0,208.4 374.3,208.5 374.8,208.6 375.3,208.3 375.8,208.7 376.3,209.7 376.8,210.0 377.3,209.9 377.8,209.6 378.3,209.2 378.8,208.3 379.3,207.5 379.8,207.4 380.3,207.3 380.6,207.2 380.7,207.3 380.9,207.4 381.2,207.6 381.7,208.0 382.2,208.5 382.7,208.9 383.2,208.7 383.7,208.3 384.2,209.3 384.7,210.2 385.2,210.4 385.7,210.6 386.2,210.8 386.7,211.1 387.2,211.4 387.7,211.4 388.2,211.1 388.7,211.2 389.2,211.4 389.7,210.5 390.2,209.8 390.7,210.0 391.2,209.9 391.3,209.7 391.5,209.4 391.7,209.1 391.8,208.8 392.0,208.5 392.2,208.4 392.3,208.2 392.5,208.0 392.7,207.7 392.8,207.4 393.0,206.8 393.2,206.1 393.3,205.5 393.5,205.0 393.7,204.6 393.8,204.4 394.0,204.5 394.2,204.8 394.3,205.3 394.5,205.8 394.6,206.3 394.8,206.9 395.0,207.4 395.1,207.8 395.3,208.2 395.5,208.6 395.6,209.0 395.8,209.3 396.0,209.7 396.1,209.9 396.3,210.2 396.6,210.1 397.1,209.4 397.6,209.2 398.1,209.8 398.6,209.9 399.1,209.6 399.6,209.3 400.1,209.0 400.6,209.0 401.1,209.2 401.6,209.0 402.1,209.1 402.6,209.7 403.1,209.5 403.6,208.4 404.1,206.7 404.6,204.8 404.7,204.5 405.0,204.4 405.1,204.5 405.3,204.9 405.6,205.7 406.1,206.1 406.6,206.5 407.1,207.3 407.6,207.6 408.1,207.6 408.5,207.3 409.0,207.0 409.2,206.9 409.5,206.9 409.9,206.9 410.0,207.0 410.5,207.4 411.0,208.0 411.5,208.4 412.0,208.9 412.5,209.1 413.0,209.3 413.5,209.4 414.0,209.0 414.5,208.7 415.0,209.3 415.5,210.0 416.0,209.9 416.5,209.4 417.0,209.3 417.5,209.3 418.0,208.8 418.3,208.4 418.5,208.4 418.6,208.4 419.0,208.5 419.5,209.0 420.0,209.7 420.5,210.3 421.0,210.7 421.5,210.9 422.0,210.8 422.4,210.7 422.9,210.6 423.4,210.6 423.9,210.3 424.4,209.7 424.9,209.6 425.4,210.0 425.9,209.5 426.4,208.6 426.9,207.9 427.4,207.4 427.7,207.5 427.9,207.6 428.1,207.8 428.4,208.1 428.9,208.4 429.4,208.7" fill="none" stroke="#FFC000" stroke-width="1.6" stroke-linejoin="round" stroke-linecap="round"/>
<polyline points="59.2,384.9 59.7,384.9 60.2,385.1 60.7,386.0 61.2,386.9 61.7,387.8 62.2,387.9 62.7,387.7 63.3,388.2 63.8,388.6 64.3,389.3 64.8,389.8 65.3,389.3 65.8,388.9 66.3,388.7 66.8,388.5 67.3,388.5 67.8,388.8 68.3,389.4 68.8,390.2 69.3,391.0 69.8,391.2 70.3,391.5 70.8,392.0 71.4,392.6 71.9,393.3 72.4,393.3 72.9,392.9 73.4,392.8 73.9,392.8 74.4,392.8 74.9,392.9 75.4,392.9 75.9,392.8 76.4,392.2 76.9,392.1 77.4,392.5 77.9,393.0 78.4,393.6 78.9,394.0 79.5,394.3 80.0,394.8 80.5,395.2 81.0,394.3 81.5,393.7 82.0,394.2 82.5,394.4 83.0,394.2 83.5,394.0 84.0,393.9 84.5,393.6 85.0,393.4 85.5,393.0 86.0,392.4 86.5,393.0 87.1,393.6 87.6,394.0 88.1,394.0 88.6,393.2 89.1,392.8 89.6,392.8 90.1,392.3 90.6,391.6 91.1,391.5 91.5,391.5 91.6,391.5 91.7,391.3 91.9,391.0 92.0,390.7 92.1,390.5 92.2,390.3 92.4,389.8 92.5,389.1 92.6,388.8 92.7,388.3 92.9,387.2 93.0,385.8 93.1,384.9 93.2,383.9 93.4,381.5 93.6,378.7 93.6,377.3 93.7,375.8 93.9,373.5 94.1,372.5 94.1,372.7 94.2,373.3 94.4,375.5 94.6,378.3 94.6,379.7 94.7,381.1 94.9,383.4 95.1,385.3 95.2,386.1 95.2,386.8 95.4,388.0 95.6,389.0 95.7,389.4 95.7,389.7 95.9,390.3 96.1,390.8 96.2,391.1 96.3,391.3 96.4,391.5 96.6,391.7 96.7,391.7 97.2,392.1 97.7,392.6 98.2,393.1 98.7,393.6 99.2,393.7 99.7,393.4 100.2,393.9 100.7,395.4 101.2,395.8 101.7,395.2 102.2,395.3 102.8,395.5 103.3,394.7 103.8,394.2 104.3,394.9 104.8,395.2 105.3,394.7 105.8,394.5 106.3,394.7 106.8,394.7 107.3,394.7 107.8,394.9 108.3,395.1 108.8,395.9 109.3,396.6 109.8,397.0 110.3,397.0 110.9,396.5 111.4,396.4 111.9,396.6 112.4,396.9 112.9,397.1 113.4,397.4 113.9,397.8 114.4,397.1 114.9,396.6 115.4,397.0 115.9,397.3 116.4,397.6 116.9,397.4 117.4,396.7 117.9,395.9 118.4,394.6 118.8,393.8 119.0,393.6 119.1,393.7 119.5,394.7 120.0,396.2 120.5,397.1 121.0,397.4 121.5,397.6 122.0,398.2 122.5,398.7 123.0,399.0 123.5,398.7 124.0,398.2 124.5,398.4 125.0,398.7 125.5,398.8 126.0,398.7 126.6,398.6 127.1,398.6 127.6,398.9 128.1,399.1 128.6,399.4 129.1,399.5 129.6,399.4 130.1,399.2 130.6,398.9 131.1,399.7 131.6,400.4 132.1,400.1 132.6,400.1 133.1,400.3 133.6,400.5 134.1,400.6 134.7,400.8 135.2,401.1 135.7,400.9 136.2,400.6 136.7,401.3 137.2,401.9 137.7,401.9 138.2,401.8 138.7,401.5 139.2,401.1 139.7,400.5 140.2,400.7 140.7,401.3 141.2,401.7 141.7,402.0 142.2,401.8 142.8,401.6 143.3,401.4 143.8,401.3 144.3,401.7 144.8,401.7 145.3,401.3 145.8,401.6 146.3,402.1 146.8,401.6 147.3,401.0 147.5,401.0 147.7,401.1 147.8,401.2 148.0,401.3 148.2,401.3 148.3,401.2 148.5,400.8 148.7,400.4 148.8,399.8 149.0,399.1 149.2,398.2 149.3,397.1 149.5,395.9 149.7,394.6 149.8,393.6 150.0,393.2 150.2,393.5 150.4,394.5 150.5,395.7 150.7,397.0 150.9,398.1 151.0,399.0 151.2,399.6 151.4,400.1 151.5,400.5 151.7,400.8 151.9,401.0 152.0,401.2 152.2,401.4 152.4,401.7 152.5,401.9 152.9,402.3 153.4,401.9 153.9,401.6 154.4,402.5 154.9,403.0 155.4,402.9 155.9,402.8 156.4,402.7 156.9,402.8 157.4,403.2 157.9,403.1 158.5,402.8 159.0,403.0 159.5,403.1 160.0,402.7 160.5,402.5 161.0,402.5 161.5,402.4 162.0,402.1 162.5,402.2 163.0,402.6 163.5,402.3 164.0,401.6 164.5,401.0 165.0,400.4 165.5,399.3 166.1,398.0 166.3,397.3 166.5,396.6 166.6,396.2 166.6,395.7 166.8,394.5 167.0,392.6 167.1,391.5 167.1,390.1 167.3,386.7 167.5,381.8 167.6,378.7 167.7,375.1 167.8,365.8 168.0,353.7 168.1,346.4 168.2,338.3 168.3,320.4 168.5,301.9 168.6,293.7 168.7,287.0 168.8,281.2 169.0,287.2 169.1,293.9 169.2,302.2 169.3,320.8 169.5,338.8 169.6,346.9 169.7,354.2 169.8,366.4 170.0,375.6 170.1,379.2 170.2,382.3 170.4,387.0 170.5,390.4 170.6,391.9 170.7,393.1 170.9,395.2 171.0,396.8 171.1,397.6 171.2,398.2 171.4,399.4 171.6,400.5 172.1,401.8 172.6,402.7 173.1,403.2 173.4,403.3 173.6,403.4 173.6,403.4 173.7,403.4 173.9,403.4 174.1,403.3 174.2,403.3 174.2,403.2 174.4,402.9 174.6,402.6 174.7,402.5 174.7,402.3 174.9,401.8 175.1,401.3 175.2,401.1 175.2,400.9 175.4,400.5 175.6,400.2 175.7,400.1 175.8,400.0 175.9,400.1 176.1,400.5 176.2,400.6 176.3,400.8 176.4,401.3 176.6,401.9 176.7,402.2 176.8,402.5 176.9,403.1 177.1,403.7 177.2,403.9 177.3,404.2 177.4,404.6 177.6,405.0 177.7,405.2 177.8,405.3 178.0,405.6 178.1,405.9 178.2,406.0 178.3,406.1 178.5,406.4 178.7,406.6 179.2,406.6 179.7,406.2 180.2,406.1 180.7,406.1 181.2,406.1 181.7,406.1 182.3,406.4 182.8,406.6 183.3,406.8 183.8,407.1 184.3,407.7 184.8,407.6 185.3,407.2 185.8,407.4 186.3,407.7 186.8,407.4 187.3,407.2 187.8,406.8 188.3,406.8 188.8,407.8 189.3,408.3 189.9,408.3 190.4,407.9 190.9,407.3 191.4,407.6 191.9,408.1 192.4,408.6 192.9,409.0 193.4,408.7 193.9,408.6 194.4,409.0 194.9,408.9 195.4,408.4 195.9,408.8 196.4,409.5 196.9,408.9 197.4,408.1 198.0,408.3 198.5,408.5 199.0,408.4 199.5,408.2 200.0,408.1 200.5,408.3 201.0,408.8 201.5,409.1 202.0,409.2 202.5,408.9 203.0,408.4 203.5,408.0 204.0,407.9 204.5,408.6 205.0,409.1 205.5,409.5 206.1,409.6 206.6,409.5 207.1,409.4 207.6,409.2 207.7,409.1 207.9,408.9 208.1,408.8 208.3,408.6 208.4,408.3 208.6,408.0 208.8,407.6 208.9,407.2 209.1,406.5 209.3,405.7 209.4,404.6 209.6,403.4 209.8,402.0 209.9,400.7 210.1,399.6 210.3,399.1 210.4,399.3 210.6,400.3 210.8,401.5 211.0,402.8 211.1,404.0 211.3,405.0 211.5,405.8 211.6,406.2 211.8,406.6 212.0,406.9 212.1,407.1 212.3,407.3 212.5,407.6 212.6,407.9 212.8,408.1 213.1,408.5 213.7,408.6 214.2,408.5 214.7,409.2 215.2,409.7 215.7,409.8 216.2,409.9 216.7,410.1 217.2,409.9 217.7,409.4 218.2,409.3 218.7,409.4 219.2,409.3 219.7,409.3 220.2,409.4 220.7,409.5 221.2,409.6 221.8,409.6 222.3,409.5 222.8,409.4 223.3,409.6 223.8,410.1 224.3,410.6 224.8,410.7 225.3,410.6 225.8,410.5 226.3,410.5 226.8,411.2 227.3,411.5 227.8,411.1 228.3,410.8 228.8,410.5 229.4,410.3 229.9,410.1 230.4,409.7 230.9,409.8 231.4,409.2 231.9,408.2 232.4,407.2 232.7,406.4 232.9,406.4 233.1,406.5 233.4,407.4 233.9,408.6 234.4,408.8 234.9,409.2 235.4,409.7 235.9,409.6 236.4,409.5 236.9,409.4 237.5,409.7 238.0,409.8 238.5,409.8 239.0,409.5 239.5,409.3 240.0,409.2 240.5,409.0 241.0,409.1 241.5,409.3 242.0,409.6 242.5,409.4 243.0,409.4 243.5,409.8 244.0,409.9 244.5,409.6 245.0,409.6 245.6,409.9 246.1,410.0 246.6,410.1 247.1,409.6 247.6,409.1 248.1,409.3 248.6,409.5 249.1,409.1 249.6,409.0 250.1,409.1 250.6,409.1 251.1,409.1 251.6,409.2 252.1,409.2 252.6,409.4 253.2,409.6 253.7,409.7 254.2,409.6 254.7,409.3 255.2,409.2 255.7,409.2 255.9,409.2 256.0,409.2 256.2,409.0 256.4,408.8 256.5,408.7 256.7,408.4 256.9,408.2 257.0,408.0 257.2,407.7 257.4,407.3 257.5,406.7 257.7,405.9 257.9,404.8 258.0,403.7 258.2,402.7 258.4,402.3 258.6,402.8 258.7,403.9 258.9,404.8 259.1,405.5 259.2,406.0 259.4,406.3 259.6,406.4 259.7,406.6 259.9,407.0 260.1,407.3 260.2,407.6 260.4,407.8 260.6,408.0 260.7,407.7 260.9,407.4 261.3,406.8 261.8,406.3 262.3,406.2 262.6,405.8 262.8,405.4 262.9,404.8 263.1,403.9 263.3,402.5 263.4,400.7 263.6,398.2 263.8,395.1 264.0,391.4 264.1,387.0 264.3,382.3 264.5,377.3 264.6,372.6 264.8,368.6 265.0,365.8 265.1,364.8 265.3,365.6 265.5,368.1 265.6,371.8 265.8,376.3 266.0,381.0 266.1,385.5 266.3,390.0 266.5,393.9 266.7,397.2 266.8,399.8 267.0,401.9 267.2,403.4 267.3,404.5 267.5,405.3 267.7,405.8 267.8,406.2 268.3,406.5 268.8,406.0 269.4,405.2 269.9,403.1 270.2,402.5 270.4,402.9 270.5,403.9 270.9,405.8 271.4,406.8 271.9,407.0 272.4,407.2 272.9,407.1 273.4,407.0 273.9,407.0 274.4,407.0 274.9,407.6 275.4,408.4 275.9,407.7 276.4,407.1 277.0,407.4 277.5,407.4 278.0,407.0 278.5,406.7 279.0,406.7 279.5,406.6 280.0,406.6 280.5,406.8 281.0,406.9 281.5,406.2 282.0,405.6 282.5,406.3 283.0,406.6 283.5,406.4 284.0,405.6 284.5,404.8 285.1,404.5 285.6,404.1 285.8,403.7 286.0,403.4 286.1,403.1 286.2,402.8 286.3,402.2 286.5,401.3 286.6,400.8 286.7,400.5 286.8,399.5 287.0,398.4 287.1,397.7 287.2,397.0 287.3,395.4 287.5,393.7 287.6,392.6 287.7,391.6 287.8,389.6 288.0,387.9 288.1,387.2 288.2,386.7 288.3,386.1 288.5,386.3 288.6,386.6 288.7,387.0 288.8,387.6 288.9,388.2 288.9,388.9 289.0,389.7 289.1,390.4 289.2,391.2 289.3,391.8 289.4,392.5 289.4,393.2 289.5,393.8 289.6,394.3 289.7,394.7 289.8,395.0 289.9,395.2 289.9,395.3 290.0,395.3 290.1,395.1 290.2,394.9 290.3,394.6 290.4,394.1 290.5,393.5 290.5,392.8 290.6,392.2 290.7,391.5 290.8,390.9 290.9,390.3 291.0,389.8 291.1,389.0 291.3,388.8 291.5,389.3 291.6,390.3 291.8,391.8 292.0,393.5 292.1,395.3 292.3,397.1 292.5,398.8 292.7,400.3 292.8,401.6 293.0,402.7 293.2,403.5 293.3,404.1 293.5,404.6 293.7,404.9 293.8,405.2 294.2,405.4 294.7,405.4 295.2,405.4 295.7,405.5 296.2,405.8 296.7,406.4 297.2,405.9 297.7,405.1 298.2,404.5 298.7,403.6 299.2,403.3 299.7,402.9 299.9,402.7 300.1,402.4 300.2,402.0 300.4,401.6 300.6,401.1 300.8,400.6 300.9,400.0 301.1,399.4 301.3,398.7 301.4,398.0 301.6,397.3 301.8,396.7 301.9,396.2 302.1,395.8 302.3,395.6 302.4,395.3 302.6,394.9 302.8,394.4 302.9,393.8 303.1,392.8 303.3,391.2 303.5,389.5 303.6,387.0 303.8,383.7 304.0,379.9 304.1,375.7 304.3,371.4 304.5,367.5 304.6,364.9 304.8,364.1 305.0,365.3 305.1,368.3 305.3,373.0 305.5,378.1 305.6,383.4 305.8,388.2 306.0,392.4 306.2,395.5 306.3,397.7 306.5,399.2 306.7,399.9 306.8,400.2 307.0,400.0 307.2,399.7 307.3,399.3 307.5,398.7 307.7,398.1 307.8,397.6 308.0,397.3 308.2,397.3 308.3,397.6 308.5,398.2 308.7,399.1 308.9,400.1 309.0,401.2 309.2,402.3 309.4,403.3 309.5,404.2 309.7,405.0 309.9,405.6 310.0,406.0 310.2,406.2 310.4,406.4 310.5,406.5 310.7,406.5 310.9,406.5 311.4,405.6 311.6,404.8 311.9,404.5 312.0,404.5 312.3,405.2 312.4,405.6 312.9,408.1 313.4,410.3 313.9,410.9 314.4,410.9 314.9,410.9 315.4,410.9 315.9,411.3 316.5,411.6 317.0,411.7 317.5,412.0 318.0,412.3 318.5,412.3 319.0,412.3 319.5,412.3 320.0,412.5 320.5,413.2 321.0,413.8 321.5,413.5 322.0,413.4 322.5,413.6 323.0,413.5 323.5,413.2 324.0,413.4 324.6,413.6 325.1,413.0 325.6,412.1 326.1,411.6 326.4,411.3 326.6,411.1 326.7,410.9 327.1,410.8 327.6,411.2 328.1,411.9 328.6,412.1 329.1,411.9 329.6,411.7 330.1,411.9 330.6,412.5 331.1,413.0 331.6,413.8 332.1,414.4 332.7,413.9 333.2,413.8 333.7,414.5 334.2,414.5 334.7,414.0 335.2,413.9 335.7,413.9 336.2,414.1 336.7,414.2 337.2,414.2 337.7,414.1 338.2,413.9 338.7,413.5 339.2,413.2 339.7,413.3 340.3,413.5 340.8,414.2 341.3,414.9 341.8,414.2 342.3,413.2 342.8,412.9 343.3,412.4 343.7,412.0 343.8,411.9 344.0,411.8 344.3,412.0 344.4,412.1 344.8,412.6 345.3,413.2 345.8,413.4 346.3,413.3 346.8,412.9 347.3,411.8 347.8,410.3 348.4,409.4 348.7,409.3 348.9,409.3 349.0,409.4 349.4,409.9 349.9,411.0 350.4,412.5 350.9,413.2 351.4,413.2 351.9,413.5 352.4,413.7 352.9,413.1 353.4,412.7 353.9,412.6 354.4,412.3 354.9,412.5 355.4,412.3 356.0,412.6 356.5,413.3 357.0,413.7 357.5,413.8 358.0,413.7 358.5,413.1 359.0,412.2 359.5,411.5 360.0,410.8 360.5,410.1 361.0,409.4 361.4,409.0 361.5,408.8 361.7,408.8 362.0,409.0 362.5,409.4 362.7,409.6 362.9,409.8 363.0,410.0 363.2,410.1 363.4,410.1 363.5,410.1 363.7,409.8 363.9,409.3 364.1,408.8 364.2,408.2 364.4,407.7 364.6,407.1 364.7,406.6 364.9,406.2 365.1,405.9 365.2,405.7 365.4,405.7 365.6,406.0 365.7,406.4 365.9,407.0 366.1,407.6 366.2,408.3 366.4,409.0 366.6,409.6 366.8,410.2 366.9,410.7 367.1,411.2 367.3,411.7 367.4,412.0 367.6,412.1 367.8,412.2 368.1,412.2 368.6,412.3 369.1,412.5 369.6,412.8 370.1,413.2 370.6,413.1 371.1,413.0 371.6,412.5 372.2,412.2 372.7,411.9 373.2,411.6 373.7,411.5 374.2,412.0 374.7,412.4 375.2,412.5 375.7,412.5 376.2,412.0 376.7,411.3 377.2,410.9 377.7,410.2 377.9,410.0 378.2,409.8 378.6,410.1 378.7,410.4 379.2,411.4 379.8,412.5 380.3,413.2 380.8,413.2 381.3,412.8 381.8,413.7 382.3,414.3 382.8,414.2 383.3,414.1 383.8,414.2 384.3,413.9 384.8,413.4 385.3,413.0 385.8,412.7 386.3,412.9 386.8,413.1 387.3,412.1 387.9,411.3 388.0,411.3 388.4,411.5 388.7,411.9 388.9,412.0 389.4,412.4 389.9,413.2 390.4,414.3 390.9,414.6 391.4,414.5 391.9,414.2 392.4,413.9 392.9,413.9 393.4,414.0 393.9,414.0 394.4,414.2 394.9,414.7 395.4,414.9 396.0,414.6 396.5,414.6 397.0,414.6 397.5,414.6 398.0,414.7 398.5,415.4 399.0,415.9 399.5,415.4 400.0,415.2 400.5,415.4 401.0,415.1 401.5,414.5 402.0,414.2 402.5,414.1 402.8,413.9 403.0,413.6 403.1,413.5 403.5,413.5 403.6,413.5 404.1,414.2 404.6,414.8 405.1,414.8 405.6,414.9 406.1,415.6 406.6,415.9 407.1,415.7 407.6,415.3 408.1,414.9 408.6,415.0 409.1,415.2 409.6,414.9 410.1,414.7 410.6,413.9 411.1,413.2 411.7,412.8 411.7,412.7 411.9,412.5 412.1,412.1 412.2,411.9 412.2,411.6 412.4,411.0 412.6,410.2 412.7,409.7 412.8,409.2 412.9,408.1 413.1,406.9 413.2,406.2 413.3,405.5 413.4,404.1 413.6,402.6 413.7,401.9 413.8,401.2 413.9,399.6 414.1,398.5 414.2,398.1 414.3,397.9 414.4,397.9 414.6,398.4 414.7,398.9 414.8,399.5 414.9,401.1 415.1,402.7 415.2,403.6 415.3,404.4 415.5,406.0 415.6,407.4 415.7,407.9 415.8,408.4 416.0,409.2 416.1,409.8 416.2,410.1 416.3,410.3 416.5,410.7 416.6,410.9 416.7,411.1 416.8,411.2 417.1,411.5 417.2,411.6 417.4,411.7 417.7,411.9 418.2,412.0 418.7,412.3 419.3,412.7 419.8,413.2 420.3,413.7 420.8,414.0 421.3,414.2 421.8,414.2 422.3,414.4 422.8,415.3 423.3,415.7 423.8,415.6 424.3,415.4 424.8,415.0 425.3,415.2 425.8,415.3 426.3,415.2 426.8,414.8 427.2,414.6 427.4,414.5 427.5,414.5 427.9,414.5 428.4,414.9 428.9,415.1 429.4,415.1 429.9,415.0 430.4,414.8 430.9,414.7 431.4,414.6 431.9,414.7 432.4,414.8 432.9,415.0 433.4,414.9 433.9,414.4 434.4,414.3 434.9,414.7 435.5,414.4 436.0,413.9 436.5,414.0 437.0,414.0 437.5,413.3 438.0,413.0 438.5,413.6 439.0,414.0" fill="none" stroke="#4472C4" stroke-width="1.6" stroke-linejoin="round" stroke-linecap="round"/>
<polyline points="59.2,408.3 59.7,408.9 60.2,409.6 60.7,410.6 61.2,411.3 61.7,411.7 62.2,411.9 62.7,412.1 63.3,412.7 63.8,413.7 64.3,414.1 64.8,414.3 65.3,414.9 65.8,415.5 66.3,416.0 66.8,416.4 67.3,416.8 67.8,417.1 68.3,417.3 68.8,417.6 69.3,417.8 69.8,418.7 70.3,419.3 70.8,418.6 71.4,418.5 71.9,419.3 72.4,419.6 72.9,419.4 73.4,419.4 73.9,419.5 74.4,419.4 74.9,419.1 75.4,419.7 75.9,420.2 76.4,420.2 76.9,420.4 77.4,421.0 77.9,421.1 78.4,420.8 78.9,420.7 79.5,420.7 80.0,420.7 80.5,420.6 81.0,421.0 81.5,421.1 82.0,421.2 82.5,421.4 83.0,421.4 83.5,421.6 84.0,422.2 84.5,422.1 85.0,421.8 85.5,421.6 86.0,421.5 86.5,421.6 87.1,421.5 87.6,420.9 88.1,420.4 88.6,420.3 89.1,419.8 89.6,419.0 90.1,419.0 90.6,419.2 91.1,418.9 91.5,418.3 91.6,418.2 91.7,418.0 91.9,417.6 92.0,417.2 92.1,416.9 92.2,416.6 92.4,416.0 92.5,415.1 92.6,414.7 92.7,414.2 92.9,412.8 93.0,411.0 93.1,409.9 93.2,408.6 93.4,405.5 93.6,401.8 93.6,399.8 93.7,397.9 93.9,394.7 94.1,393.3 94.1,393.6 94.2,394.4 94.4,397.3 94.6,401.3 94.6,403.3 94.7,405.2 94.9,408.5 95.1,411.2 95.2,412.4 95.2,413.3 95.4,414.9 95.6,415.9 95.7,416.4 95.7,416.7 95.9,417.3 96.1,417.8 96.2,418.0 96.3,418.2 96.4,418.5 96.6,418.7 96.7,418.9 97.2,419.4 97.7,420.5 98.2,421.3 98.7,421.9 99.2,422.5 99.7,423.0 100.2,422.9 100.7,422.2 101.2,422.0 101.7,422.4 102.2,423.1 102.8,423.8 103.3,423.4 103.8,423.2 104.3,424.2 104.8,424.6 105.3,424.0 105.8,423.7 106.3,423.6 106.8,423.6 107.3,423.5 107.8,423.1 108.3,422.7 108.7,422.8 108.8,422.9 109.0,423.0 109.3,423.2 109.8,422.9 110.3,423.0 110.9,423.8 111.4,424.3 111.9,424.5 112.4,424.8 112.9,425.1 113.4,425.3 113.9,425.6 114.4,425.8 114.9,425.9 115.4,425.6 115.9,425.5 116.4,425.9 116.9,426.3 117.4,426.3 117.9,425.5 118.4,423.8 118.8,422.5 119.0,422.0 119.1,421.8 119.5,422.1 120.0,424.2 120.5,426.0 121.0,426.4 121.5,426.6 122.0,427.1 122.5,427.5 123.0,428.1 123.5,428.4 124.0,428.5 124.5,428.7 125.0,428.8 125.5,429.0 126.0,429.2 126.6,429.6 127.1,430.0 127.6,430.3 128.1,430.0 128.6,428.9 129.1,428.7 129.6,429.0 130.1,429.2 130.6,429.3 131.1,429.1 131.6,429.0 132.1,428.8 132.6,428.8 133.1,429.1 133.6,429.4 134.1,429.6 134.7,429.8 135.2,430.1 135.7,429.6 136.2,428.9 136.7,429.1 137.2,429.3 137.7,429.7 138.2,429.9 138.7,429.9 139.2,429.9 139.7,429.8 140.2,429.7 140.7,429.5 141.2,429.9 141.7,430.3 142.2,430.6 142.8,431.0 143.3,431.8 143.8,432.0 144.3,431.0 144.8,430.5 145.3,430.5 145.8,430.2 146.3,429.7 146.8,429.9 147.3,430.2 147.5,430.1 147.7,429.9 147.8,429.8 148.0,429.6 148.2,429.4 148.3,429.2 148.5,428.8 148.7,428.4 148.8,427.8 149.0,427.0 149.2,426.0 149.3,424.7 149.5,423.2 149.7,421.8 149.8,420.6 150.0,420.1 150.2,420.6 150.4,422.0 150.5,423.6 150.7,425.2 150.9,426.6 151.0,427.9 151.2,428.5 151.4,428.9 151.5,429.1 151.7,429.3 151.9,429.3 152.0,429.4 152.2,429.6 152.4,429.7 152.5,429.8 152.9,429.9 153.4,429.4 153.9,429.0 154.4,429.4 154.9,429.7 155.4,429.7 155.9,429.9 156.4,430.2 156.9,430.2 157.4,429.9 157.9,430.0 158.5,430.2 159.0,429.5 159.5,429.0 160.0,429.4 160.5,429.7 161.0,429.9 161.5,430.0 162.0,430.0 162.5,429.9 163.0,429.8 163.5,429.7 164.0,429.4 164.5,429.3 165.0,428.9 165.5,428.0 166.1,427.0 166.3,426.5 166.5,426.0 166.6,425.7 166.6,425.4 166.8,424.5 167.0,423.1 167.1,422.3 167.1,421.3 167.3,418.7 167.5,415.0 167.6,412.6 167.7,409.8 167.8,402.6 168.0,393.0 168.1,387.2 168.2,380.9 168.3,366.8 168.5,352.2 168.6,345.7 168.7,340.5 168.8,335.9 169.0,340.6 169.1,345.9 169.2,352.4 169.3,367.0 169.5,381.2 169.6,387.5 169.7,393.1 169.8,402.5 170.0,409.5 170.1,412.3 170.2,414.6 170.4,418.1 170.5,420.6 170.6,421.7 170.7,422.7 170.9,424.3 171.0,425.6 171.1,426.2 171.2,426.7 171.4,427.6 171.6,428.7 172.1,430.5 172.6,431.3 173.1,431.2 173.4,431.0 173.6,430.8 173.6,430.7 173.7,430.5 173.9,430.2 174.1,429.8 174.2,429.6 174.2,429.4 174.4,429.3 174.6,429.1 174.7,428.9 174.7,428.8 174.9,428.4 175.1,427.9 175.2,427.7 175.2,427.2 175.4,426.2 175.6,425.4 175.7,425.1 175.8,424.9 175.9,424.6 176.1,424.6 176.2,424.9 176.3,425.2 176.4,425.9 176.6,426.7 176.7,427.1 176.8,427.6 176.9,428.4 177.1,429.0 177.2,429.2 177.3,429.4 177.4,429.9 177.6,430.3 177.7,430.4 177.8,430.6 178.0,430.8 178.1,431.0 178.2,431.1 178.3,431.2 178.5,431.4 178.7,431.6 179.2,432.3 179.7,433.0 180.2,433.9 180.7,434.9 181.2,434.8 181.7,434.6 182.3,434.6 182.8,434.5 183.3,434.6 183.8,434.6 184.3,434.4 184.8,434.2 185.3,433.8 185.8,433.6 186.3,433.6 186.8,434.4 187.3,435.2 187.8,435.2 188.3,435.3 188.8,435.9 189.3,436.2 189.9,436.3 190.4,435.8 190.9,435.1 191.4,435.5 191.9,436.2 192.4,436.4 192.9,436.4 193.4,435.5 193.9,435.0 194.4,435.4 194.9,435.9 195.4,436.2 195.9,436.1 196.4,435.8 196.9,436.0 197.4,436.3 198.0,436.3 198.5,436.3 199.0,436.1 199.5,436.0 200.0,436.1 200.5,436.2 201.0,436.0 201.5,436.0 202.0,436.0 202.5,436.0 203.0,436.0 203.5,435.8 204.0,435.9 204.5,436.2 205.0,436.5 205.5,436.7 206.1,437.1 206.6,437.5 207.1,437.2 207.6,436.3 207.7,436.2 207.9,436.1 208.1,436.1 208.3,435.9 208.4,435.7 208.6,435.5 208.8,434.7 208.9,433.9 209.1,433.0 209.3,431.8 209.4,430.5 209.6,429.1 209.8,427.8 209.9,426.5 210.1,425.7 210.3,425.5 210.4,426.2 210.6,427.2 210.8,428.5 211.0,429.9 211.1,431.2 211.3,432.3 211.5,433.3 211.6,434.1 211.8,434.7 212.0,435.2 212.1,435.6 212.3,435.8 212.5,436.0 212.6,436.2 212.8,436.3 213.1,436.5 213.7,437.0 214.2,437.4 214.7,437.5 215.2,437.4 215.7,437.2 216.2,437.1 216.7,437.5 217.2,437.7 217.7,437.8 218.2,437.8 218.7,437.8 219.2,438.1 219.7,438.4 220.2,437.4 220.7,436.6 221.2,437.3 221.8,437.7 222.3,437.6 222.8,437.7 223.3,438.0 223.8,438.4 224.3,438.9 224.8,438.3 225.3,437.4 225.8,437.6 226.3,437.6 226.8,437.5 227.3,437.6 227.8,438.5 228.3,439.0 228.8,439.2 229.4,438.9 229.9,438.4 230.4,438.7 230.9,439.0 231.4,438.5 231.9,437.8 232.4,437.0 232.7,436.3 232.9,435.9 233.1,435.6 233.4,435.9 233.9,437.0 234.4,438.0 234.9,438.3 235.4,438.2 235.9,438.0 236.4,437.8 236.9,437.7 237.5,437.7 238.0,438.0 238.5,438.1 239.0,437.7 239.5,437.4 240.0,437.2 240.5,437.2 241.0,437.5 241.5,437.7 242.0,438.0 242.5,438.1 243.0,438.1 243.5,437.8 244.0,437.7 244.5,437.9 245.0,438.1 245.6,438.2 246.1,438.0 246.6,437.6 247.1,437.9 247.6,438.3 248.1,438.0 248.6,437.7 249.1,437.4 249.6,437.2 250.1,437.5 250.6,437.4 251.1,437.0 251.6,437.2 252.1,437.5 252.6,437.1 253.2,436.4 253.7,436.9 254.2,437.3 254.7,437.5 255.2,437.5 255.7,436.9 255.9,436.7 256.0,436.6 256.2,436.5 256.4,436.4 256.5,436.3 256.7,436.2 256.9,435.9 257.0,435.5 257.2,435.0 257.4,434.2 257.5,433.1 257.7,431.6 257.9,429.9 258.0,428.0 258.2,426.5 258.4,425.8 258.6,426.5 258.7,428.2 258.9,430.1 259.1,431.9 259.2,433.3 259.4,434.3 259.6,435.1 259.7,435.6 259.9,436.1 260.1,436.4 260.2,436.6 260.4,436.8 260.6,437.0 260.7,436.9 260.9,436.9 261.3,436.7 261.8,436.2 262.3,435.2 262.6,434.6 262.8,434.4 262.9,434.0 263.1,433.4 263.3,432.5 263.4,431.0 263.6,428.9 263.8,426.3 264.0,423.3 264.1,419.8 264.3,416.0 264.5,412.5 264.6,409.2 264.8,406.4 265.0,404.6 265.1,404.1 265.3,404.9 265.5,406.8 265.6,409.7 265.8,413.1 266.0,416.7 266.1,420.2 266.3,423.4 266.5,426.1 266.7,428.4 266.8,430.2 267.0,431.6 267.2,432.5 267.3,433.1 267.5,433.5 267.7,433.7 267.8,433.8 268.3,434.4 268.8,434.8 269.4,433.9 269.9,431.9 270.2,431.1 270.4,431.4 270.5,431.9 270.9,433.3 271.4,434.7 271.9,435.1 272.4,434.9 272.9,435.1 273.4,435.6 273.9,435.9 274.4,436.0 274.9,436.1 275.4,436.1 275.9,435.5 276.4,434.9 277.0,434.4 277.5,433.8 278.0,434.2 278.5,435.1 279.0,435.4 279.5,435.0 280.0,434.1 280.5,434.3 281.0,434.8 281.5,434.7 282.0,434.6 282.5,433.9 283.0,433.6 283.5,434.1 284.0,434.2 284.5,433.8 285.1,433.6 285.6,433.4 285.8,433.2 286.0,432.9 286.1,432.8 286.2,432.7 286.3,432.3 286.5,431.9 286.6,431.7 286.7,431.6 286.8,431.3 287.0,430.9 287.1,430.7 287.2,430.4 287.3,429.7 287.5,429.0 287.6,428.3 287.7,427.7 287.8,426.4 288.0,425.3 288.1,424.8 288.2,424.4 288.3,423.9 288.5,423.8 288.6,423.9 288.7,424.1 288.8,424.3 288.9,424.6 288.9,424.8 289.0,425.1 289.1,425.4 289.2,425.7 289.3,425.9 289.4,426.1 289.4,426.5 289.5,426.8 289.6,427.1 289.7,427.3 289.8,427.5 289.9,427.6 289.9,427.7 290.0,427.7 290.1,427.7 290.2,427.6 290.3,427.5 290.4,427.3 290.5,427.1 290.5,426.8 290.6,426.5 290.7,426.2 290.8,425.9 290.9,425.7 291.0,425.4 291.1,425.1 291.3,425.0 291.5,425.2 291.6,425.7 291.8,426.4 292.0,427.3 292.1,428.1 292.3,429.2 292.5,430.2 292.7,431.1 292.8,432.0 293.0,432.7 293.2,433.1 293.3,433.2 293.5,433.2 293.7,433.2 293.8,433.1 294.2,433.1 294.7,433.5 295.2,433.7 295.7,433.9 296.2,434.2 296.7,434.4 297.2,434.0 297.7,433.4 298.2,433.2 298.7,433.0 299.2,432.9 299.7,432.5 299.9,432.4 300.1,432.3 300.2,432.0 300.4,431.7 300.6,431.2 300.8,430.6 300.9,429.9 301.1,429.1 301.3,428.3 301.4,427.5 301.6,426.9 301.8,426.3 301.9,425.9 302.1,425.6 302.3,425.4 302.4,425.2 302.6,424.7 302.8,424.1 302.9,423.2 303.1,421.7 303.3,419.4 303.5,416.5 303.6,412.6 303.8,407.7 304.0,401.9 304.1,395.6 304.3,389.2 304.5,383.5 304.6,379.6 304.8,378.3 305.0,379.8 305.1,384.0 305.3,389.9 305.5,396.7 305.6,403.6 305.8,410.0 306.0,415.5 306.2,420.1 306.3,423.6 306.5,426.2 306.7,428.0 306.8,429.0 307.0,429.6 307.2,429.8 307.3,429.7 307.5,429.5 307.7,429.2 307.8,428.9 308.0,428.8 308.2,428.8 308.3,429.1 308.5,429.6 308.7,430.3 308.9,431.0 309.0,431.6 309.2,432.1 309.4,432.6 309.4,432.9 309.5,433.1 309.6,433.3 309.7,433.5 309.8,433.6 309.9,433.9 310.0,434.2 310.0,434.4 310.1,434.6 310.2,434.8 310.3,435.0 310.4,435.1 310.5,435.2 310.5,435.3 310.6,435.3 310.7,435.4 310.8,435.2 310.9,435.1 311.0,434.9 311.1,434.5 311.3,433.9 311.4,433.7 311.5,433.4 311.6,432.8 311.8,432.6 311.9,432.5 312.0,432.6 312.1,432.9 312.3,433.6 312.4,434.0 312.5,434.4 312.7,435.2 312.8,436.0 312.9,436.4 313.0,436.7 313.2,437.3 313.3,437.8 313.4,438.0 313.5,438.2 313.7,438.5 313.8,438.7 313.9,438.8 314.0,438.9 314.2,439.0 314.3,439.1 314.4,439.2 314.5,439.3 314.9,439.8 315.4,440.4 315.9,441.0 316.5,441.3 317.0,441.1 317.5,440.9 318.0,440.7 318.5,440.7 319.0,440.7 319.5,440.8 320.0,441.0 320.5,440.4 321.0,440.0 321.5,440.2 322.0,440.3 322.5,440.1 323.0,439.9 323.5,439.8 324.0,440.4 324.6,441.1 325.1,441.3 325.6,441.0 326.1,440.2 326.4,439.6 326.6,439.5 326.7,439.5 327.1,439.7 327.6,440.4 328.1,441.2 328.6,441.9 329.1,442.4 329.6,442.3 330.1,441.9 330.6,442.4 331.1,443.1 331.6,443.1 332.1,442.9 332.7,442.1 333.2,441.7 333.7,442.3 334.2,442.7 334.7,443.0 335.2,443.0 335.7,442.9 336.2,443.2 336.7,443.7 337.2,443.5 337.7,443.5 338.2,443.4 338.7,443.2 339.2,442.9 339.7,442.3 340.3,441.6 340.8,441.5 341.3,441.9 341.8,441.7 342.3,441.4 342.8,441.8 343.3,441.9 343.7,441.5 343.8,441.5 344.0,441.4 344.3,441.7 344.4,442.0 344.8,443.1 345.3,443.7 345.8,443.3 346.3,442.6 346.8,441.3 347.3,440.9 347.8,440.4 348.4,438.2 348.7,437.5 348.9,437.6 349.0,438.0 349.4,439.2 349.9,440.8 350.4,441.9 350.9,442.5 351.4,442.3 351.9,442.5 352.4,442.7 352.9,443.3 353.4,444.0 353.9,443.6 354.4,443.2 354.9,443.0 355.4,442.8 356.0,443.0 356.5,443.0 357.0,442.8 357.5,442.8 358.0,442.7 358.5,441.9 358.8,441.1 359.0,440.7 359.2,440.3 359.3,439.9 359.5,439.5 359.7,439.1 359.8,438.6 360.0,438.3 360.2,438.0 360.3,437.7 360.5,437.4 360.7,437.1 360.8,436.9 361.0,436.6 361.2,436.3 361.4,436.2 361.5,436.1 361.7,436.0 361.9,436.1 362.0,436.3 362.2,436.5 362.4,436.7 362.5,436.8 362.7,437.0 362.9,436.8 363.0,436.6 363.2,436.4 363.4,436.1 363.5,435.7 363.7,435.7 363.9,435.8 364.1,436.0 364.6,436.7 364.9,435.9 365.1,435.6 365.2,435.3 365.6,435.3 366.1,437.2 366.6,439.0 367.1,439.9 367.6,440.3 368.1,440.5 368.6,441.1 369.1,441.7 369.6,441.8 370.1,441.8 370.6,441.9 371.1,442.1 371.6,442.4 372.2,442.6 372.7,442.4 373.2,442.2 373.7,442.2 374.2,441.8 374.7,441.4 375.2,441.6 375.7,441.8 376.2,441.5 376.7,440.8 377.2,439.7 377.7,438.4 377.9,438.0 378.2,437.6 378.6,437.8 378.7,438.3 379.2,439.8 379.8,440.4 380.3,440.5 380.8,440.8 381.3,441.1 381.8,440.8 382.3,440.4 382.8,440.7 383.3,441.7 383.8,442.1 384.3,442.0 384.8,441.7 385.3,441.6 385.8,441.7 386.3,441.4 386.8,440.9 387.3,440.8 387.9,440.6 388.0,440.6 388.4,440.8 388.7,441.2 388.9,441.3 389.4,441.8 389.9,442.3 390.4,442.8 390.9,443.2 391.4,443.4 391.9,443.2 392.4,442.8 392.9,442.9 393.4,442.9 393.9,442.7 394.4,442.7 394.9,443.3 395.4,443.4 396.0,442.9 396.5,442.6 397.0,442.5 397.5,443.0 398.0,443.5 398.5,443.4 399.0,443.4 399.5,443.6 400.0,443.6 400.5,443.1 401.0,442.9 401.5,442.6 402.0,442.3 402.5,441.9 402.8,441.7 403.0,441.5 403.1,441.5 403.5,441.7 403.6,441.7 404.1,442.7 404.6,443.4 405.1,443.5 405.6,443.3 406.1,443.0 406.6,442.7 407.1,442.6 407.6,442.0 408.1,441.5 408.6,441.5 409.1,441.5 409.6,441.5 410.1,441.2 410.6,440.7 411.1,440.5 411.7,440.6 411.7,440.5 411.9,440.3 412.1,439.6 412.2,439.2 412.2,438.8 412.4,437.7 412.6,436.4 412.7,435.7 412.8,434.9 412.9,433.1 413.1,431.2 413.2,430.2 413.3,429.1 413.4,427.0 413.6,424.9 413.7,424.0 413.8,423.1 413.9,421.6 414.1,420.6 414.2,420.4 414.3,420.3 414.4,420.7 414.6,421.8 414.7,422.5 414.8,423.3 414.9,425.1 415.1,427.1 415.2,428.0 415.3,429.0 415.5,430.8 415.6,432.4 415.7,433.1 415.8,433.7 416.0,434.7 416.1,435.5 416.2,435.9 416.3,436.1 416.5,436.6 416.6,436.9 416.7,437.1 416.8,437.2 417.1,437.5 417.2,437.7 417.4,437.8 417.7,438.3 418.2,439.3 418.7,439.8 419.3,440.0 419.8,440.6 420.3,441.3 420.8,442.1 421.3,442.7 421.8,442.8 422.3,442.9 422.8,442.8 423.3,442.6 423.8,442.3 424.3,442.3 424.8,442.4 425.3,442.6 425.8,442.8 426.3,441.5 426.8,440.5 427.2,440.3 427.4,440.3 427.5,440.3 427.9,440.5 428.4,441.0 428.9,441.6 429.4,442.3 429.9,442.3 430.4,441.9 430.9,441.9 431.4,441.9 431.9,441.8 432.4,441.8 432.9,441.8 433.4,441.6 433.9,441.2 434.4,440.9 434.9,440.8 435.5,441.2 436.0,441.6 436.5,442.3 437.0,442.9 437.5,442.1 438.0,441.4 438.5,442.0 439.0,442.4" fill="none" stroke="#ED7D31" stroke-width="1.6" stroke-linejoin="round" stroke-linecap="round"/>
<polyline points="59.2,442.7 59.7,443.8 60.2,444.3 60.7,443.7 61.2,443.7 61.7,444.2 62.2,444.8 62.7,445.4 63.3,445.6 63.8,445.8 64.3,446.3 64.8,446.6 65.3,446.2 65.8,446.2 66.3,446.8 66.8,447.2 67.3,447.4 67.8,448.0 68.3,448.7 68.8,448.5 69.3,448.1 69.8,448.4 70.3,448.7 70.8,449.3 71.4,449.6 71.9,449.2 72.4,449.4 72.9,449.7 73.4,450.0 73.9,450.2 74.4,450.8 74.9,451.5 75.4,451.0 75.9,450.7 76.4,451.2 76.9,451.6 77.4,451.8 77.9,452.1 78.4,452.4 78.9,452.5 79.5,452.4 80.0,451.5 80.5,450.6 81.0,451.1 81.5,451.4 82.0,451.1 82.5,451.6 83.0,453.0 83.5,453.3 84.0,452.5 84.5,452.4 85.0,452.7 85.5,452.3 86.0,451.9 86.5,451.9 87.1,451.8 87.6,451.5 88.1,451.3 88.6,451.5 89.1,451.5 89.6,451.3 90.1,450.3 90.6,449.1 91.1,448.6 91.5,448.3 91.6,448.2 91.7,448.1 91.9,447.7 92.0,447.3 92.1,447.0 92.2,446.8 92.4,446.1 92.5,445.2 92.6,444.7 92.7,444.1 92.9,442.5 93.0,440.4 93.1,439.1 93.2,437.6 93.4,434.2 93.6,430.0 93.6,427.8 93.7,425.6 93.9,422.1 94.1,420.5 94.1,420.8 94.2,421.7 94.4,424.8 94.6,429.2 94.6,431.4 94.7,433.4 94.9,437.1 95.1,440.1 95.2,441.4 95.2,442.4 95.4,444.0 95.6,444.9 95.7,445.3 95.7,445.5 95.9,445.9 96.1,446.2 96.2,446.3 96.3,446.4 96.4,446.9 96.6,447.3 96.7,447.6 97.2,448.7 97.7,449.1 98.2,449.4 98.7,449.8 99.2,450.3 99.7,450.9 100.2,451.2 100.7,451.2 101.2,451.6 101.7,452.5 102.2,452.2 102.8,451.6 103.3,451.6 103.8,451.7 104.3,452.4 104.8,452.8 105.3,452.6 105.8,452.3 106.3,452.0 106.8,452.0 107.3,452.1 107.8,451.9 108.3,451.6 108.7,450.9 108.8,450.6 109.0,450.3 109.3,450.1 109.8,450.8 110.3,451.5 110.9,452.3 111.4,452.5 111.9,452.1 112.4,452.7 112.9,453.7 113.4,453.6 113.9,453.1 114.4,453.4 114.9,453.6 115.4,453.6 115.9,453.5 116.4,453.2 116.9,453.1 117.4,453.2 117.9,452.6 118.4,451.3 118.8,450.5 119.0,450.2 119.1,450.1 119.5,450.8 120.0,452.9 120.5,454.3 121.0,454.8 121.5,454.9 122.0,454.7 122.5,454.5 123.0,454.9 123.5,455.7 124.0,456.4 124.5,456.3 125.0,456.1 125.5,456.1 126.0,456.2 126.6,456.6 127.1,456.6 127.6,456.1 128.1,456.0 128.6,456.0 129.1,456.7 129.6,457.7 130.1,457.2 130.6,456.4 131.1,456.8 131.6,457.1 132.1,457.2 132.6,457.1 133.1,456.9 133.6,457.1 134.1,457.7 134.7,457.9 135.2,457.9 135.7,457.6 136.2,457.2 136.7,456.6 137.2,456.1 137.7,456.6 138.2,457.0 138.7,456.5 139.2,456.6 139.7,457.3 140.2,457.6 140.7,457.4 141.2,457.0 141.7,456.7 142.2,457.4 142.8,458.3 143.3,458.4 143.8,458.4 144.3,458.3 144.8,458.3 145.3,458.5 145.8,458.9 146.3,459.6 146.8,459.0 147.3,458.0 147.5,458.2 147.7,458.4 147.8,458.6 148.0,458.6 148.2,458.5 148.3,458.2 148.5,457.6 148.7,456.9 148.8,456.0 149.0,454.8 149.2,453.3 149.3,452.0 149.5,450.5 149.7,449.1 149.8,447.9 150.0,447.7 150.2,448.1 150.4,449.1 150.5,450.4 150.7,451.8 150.9,452.9 151.0,453.7 151.2,454.6 151.4,455.2 151.5,455.6 151.7,455.8 151.9,456.0 152.0,456.2 152.2,456.7 152.4,457.2 152.5,457.6 152.9,458.5 153.4,458.7 153.9,458.8 154.4,458.5 154.9,458.4 155.4,458.7 155.9,458.8 156.4,458.5 156.9,458.6 157.4,458.9 157.9,459.2 158.5,459.4 159.0,459.2 159.5,459.1 160.0,458.9 160.5,458.7 161.0,458.6 161.5,458.8 162.0,459.2 162.5,459.4 163.0,459.4 163.5,459.0 164.0,458.6 164.5,457.6 165.0,456.7 165.5,456.7 166.1,456.2 166.3,455.5 166.5,454.8 166.6,454.4 166.6,454.0 166.8,453.0 167.0,451.8 167.1,451.0 167.1,450.2 167.3,447.8 167.5,444.5 167.6,442.3 167.7,439.8 167.8,433.3 168.0,424.6 168.1,419.5 168.2,413.7 168.3,401.0 168.5,387.8 168.6,382.0 168.7,377.2 168.8,373.2 169.0,377.7 169.1,382.6 169.2,388.7 169.3,402.2 169.5,415.3 169.6,421.2 169.7,426.4 169.8,434.9 170.0,441.3 170.1,443.9 170.2,446.0 170.4,449.2 170.5,451.4 170.6,452.4 170.7,453.2 170.9,454.5 171.0,455.4 171.1,455.9 171.2,456.2 171.4,456.9 171.6,457.6 172.1,458.6 172.6,459.3 173.1,460.1 173.4,460.1 173.6,459.9 173.6,459.7 173.7,459.6 173.9,459.3 174.1,458.9 174.2,458.7 174.2,458.5 174.4,458.4 174.6,458.3 174.7,458.3 174.7,458.2 174.9,457.9 175.1,457.7 175.2,457.5 175.2,457.3 175.4,456.8 175.6,456.4 175.7,456.3 175.8,456.2 175.9,456.1 176.1,456.3 176.2,456.3 176.3,456.4 176.4,456.7 176.6,457.1 176.7,457.3 176.8,457.5 176.9,457.9 177.1,458.5 177.2,458.8 177.3,459.2 177.4,459.8 177.6,460.4 177.7,460.7 177.8,461.0 178.0,461.5 178.1,461.8 178.2,461.9 178.3,462.0 178.5,462.2 178.7,462.5 179.2,462.2 179.7,461.4 180.2,461.7 180.7,462.1 181.2,461.6 181.7,461.5 182.3,461.8 182.8,462.2 183.3,462.8 183.8,463.2 184.3,463.2 184.8,463.0 185.3,462.6 185.8,462.6 186.3,462.7 186.8,463.2 187.3,463.6 187.8,463.2 188.3,463.0 188.8,463.1 189.3,463.3 189.9,463.7 190.4,463.8 190.9,463.9 191.4,464.2 191.9,464.5 192.4,465.1 192.9,465.4 193.4,464.6 193.9,464.3 194.4,465.2 194.9,465.2 195.4,464.5 195.9,464.5 196.4,464.9 196.9,465.3 197.4,465.6 198.0,465.9 198.5,465.9 199.0,464.5 199.5,463.7 200.0,465.0 200.5,465.7 201.0,465.4 201.5,465.4 202.0,465.6 202.5,465.7 203.0,465.9 203.5,466.3 204.0,466.7 204.5,466.8 205.0,466.7 205.5,466.1 206.1,465.6 206.6,465.2 207.1,464.9 207.6,464.5 207.7,464.3 207.9,464.0 208.1,463.6 208.3,463.2 208.4,462.8 208.6,462.2 208.8,461.8 208.9,461.2 209.1,460.5 209.3,459.5 209.4,458.4 209.6,457.1 209.8,455.8 209.9,454.6 210.1,453.7 210.3,453.5 210.4,454.2 210.6,455.1 210.8,456.4 211.0,457.7 211.1,458.9 211.3,459.9 211.5,460.8 211.6,461.7 211.8,462.3 212.0,462.8 212.1,463.2 212.3,463.6 212.5,463.9 212.6,464.1 212.8,464.4 213.1,464.8 213.7,465.1 214.2,465.3 214.7,465.3 215.2,465.4 215.7,465.5 216.2,465.6 216.7,465.8 217.2,466.2 217.7,466.9 218.2,467.0 218.7,466.9 219.2,466.7 219.7,466.6 220.2,466.5 220.7,466.4 221.2,466.7 221.8,467.0 222.3,467.0 222.8,466.9 223.3,466.3 223.8,465.7 224.3,465.8 224.8,466.6 225.3,467.3 225.8,467.2 226.3,467.0 226.8,467.0 227.3,467.0 227.8,467.2 228.3,467.3 228.8,467.3 229.4,467.0 229.9,466.6 230.4,467.0 230.9,467.5 231.4,466.8 231.9,465.9 232.4,464.7 232.7,463.9 232.9,463.7 233.1,463.7 233.4,464.3 233.9,465.7 234.4,466.6 234.9,466.8 235.4,466.6 235.9,466.0 236.4,465.3 236.9,465.8 237.5,466.2 238.0,466.5 238.5,466.8 239.0,466.9 239.5,467.1 240.0,467.5 240.5,467.4 241.0,467.2 241.5,467.1 242.0,467.0 242.5,467.4 243.0,467.7 243.5,467.3 244.0,467.2 244.5,467.5 245.0,466.8 245.6,465.8 246.1,466.7 246.6,467.7 247.1,467.4 247.6,466.7 248.1,466.9 248.6,466.9 249.1,466.5 249.6,466.2 250.1,465.9 250.6,466.0 251.1,466.3 251.6,466.5 252.1,466.6 252.6,466.7 253.2,466.6 253.7,466.3 254.2,466.0 254.7,466.0 255.2,465.9 255.7,465.3 255.9,465.1 256.0,464.9 256.2,464.7 256.4,464.4 256.5,464.1 256.7,463.7 256.9,463.3 257.0,463.0 257.2,462.5 257.4,461.8 257.5,460.8 257.7,459.4 257.9,457.6 258.0,455.5 258.2,453.7 258.4,452.9 258.6,453.6 258.7,455.3 258.9,457.5 259.1,459.5 259.2,461.1 259.4,462.4 259.6,463.3 259.7,463.9 259.9,464.2 260.1,464.5 260.2,464.7 260.4,464.8 260.6,464.9 260.7,465.1 260.9,465.2 261.3,465.3 261.8,465.3 262.3,464.7 262.6,464.2 262.8,463.8 262.9,463.4 263.1,462.6 263.3,461.6 263.4,460.2 263.6,458.3 263.8,455.9 264.0,453.1 264.1,449.8 264.3,446.1 264.5,442.4 264.6,438.9 264.8,435.9 265.0,433.8 265.1,433.1 265.3,433.8 265.5,435.7 265.6,438.6 265.8,442.1 266.0,445.7 266.1,449.2 266.3,452.5 266.5,455.4 266.7,457.8 266.8,459.7 267.0,461.2 267.2,462.3 267.3,463.1 267.5,463.7 267.7,464.1 267.8,464.4 268.3,464.6 268.8,464.3 269.4,462.8 269.9,460.1 270.2,459.6 270.4,460.0 270.5,460.9 270.9,462.8 271.4,465.0 271.9,465.6 272.4,464.8 272.9,464.7 273.4,465.4 273.9,465.6 274.4,465.3 274.9,465.4 275.4,465.2 275.9,464.5 276.4,464.7 277.0,464.5 277.5,464.2 278.0,463.9 278.5,463.6 279.0,463.3 279.5,463.9 280.0,464.9 280.5,464.7 281.0,464.2 281.5,463.6 282.0,463.1 282.5,463.0 283.0,463.1 283.5,463.4 284.0,463.4 284.5,463.0 285.1,462.7 285.6,462.3 285.8,462.2 286.0,462.2 286.1,462.1 286.2,462.0 286.3,461.8 286.5,461.5 286.6,461.3 286.7,460.9 286.8,460.1 287.0,459.1 287.1,458.6 287.2,457.9 287.3,456.6 287.5,455.0 287.6,454.3 287.7,453.6 287.8,452.2 288.0,450.9 288.1,450.4 288.2,450.0 288.3,449.7 288.5,449.8 288.6,450.1 288.7,450.5 288.8,451.0 288.9,451.5 288.9,452.1 289.0,452.6 289.1,453.2 289.2,453.7 289.3,454.2 289.4,454.7 289.4,455.0 289.5,455.2 289.6,455.4 289.7,455.5 289.8,455.5 289.9,455.5 289.9,455.4 290.0,455.2 290.1,454.9 290.2,454.6 290.3,454.2 290.4,454.0 290.5,453.7 290.5,453.4 290.6,453.1 290.7,452.7 290.8,452.4 290.9,452.1 291.0,451.8 291.1,451.4 291.3,451.4 291.5,451.7 291.6,452.5 291.8,453.5 292.0,454.7 292.1,455.9 292.3,456.9 292.5,457.8 292.7,458.6 292.8,459.2 293.0,459.7 293.2,460.1 293.3,460.6 293.5,460.9 293.7,461.2 293.8,461.4 294.2,461.8 294.7,462.6 295.2,463.0 295.7,463.2 296.2,463.3 296.7,463.2 297.2,463.4 297.7,463.6 298.2,463.7 298.7,463.6 299.2,463.4 299.7,463.0 299.9,462.8 300.1,462.5 300.2,462.2 300.4,461.8 300.6,461.4 300.8,460.9 300.9,460.4 301.1,459.9 301.3,459.3 301.4,458.7 301.6,458.0 301.8,457.3 301.9,456.7 302.1,456.2 302.3,455.8 302.4,455.3 302.6,454.6 302.8,453.8 302.9,452.7 303.1,451.0 303.3,448.7 303.5,445.9 303.6,442.1 303.8,437.4 304.0,431.8 304.1,425.9 304.3,420.0 304.5,414.8 304.6,411.2 304.8,410.0 305.0,411.5 305.1,415.4 305.3,421.0 305.5,427.4 305.6,433.9 305.8,439.9 306.0,445.1 306.2,449.3 306.3,452.6 306.5,454.9 306.7,456.5 306.8,457.4 307.0,457.9 307.2,458.2 307.3,458.3 307.5,458.2 307.7,458.1 307.8,458.0 308.0,457.9 308.2,457.9 308.3,458.1 308.5,458.5 308.7,459.1 308.9,459.7 309.0,460.2 309.2,460.6 309.4,461.1 309.4,461.3 309.5,461.4 309.6,461.6 309.7,461.7 309.8,461.8 309.9,462.0 310.0,462.3 310.0,462.5 310.1,462.7 310.2,462.9 310.3,463.0 310.4,463.1 310.5,463.3 310.5,463.4 310.6,463.4 310.7,463.5 310.8,463.3 310.9,463.1 311.0,462.9 311.1,462.3 311.3,461.7 311.4,461.4 311.5,461.0 311.6,460.4 311.8,460.2 311.9,460.1 312.0,460.2 312.1,460.6 312.3,461.3 312.4,461.7 312.5,462.1 312.7,463.0 312.8,463.8 312.9,464.2 313.0,464.5 313.2,465.2 313.3,465.7 313.4,466.0 313.5,466.2 313.7,466.4 313.8,466.6 313.9,466.7 314.0,466.7 314.2,466.8 314.3,466.9 314.4,466.9 314.5,466.9 314.9,467.1 315.4,467.3 315.9,467.8 316.5,468.1 317.0,468.4 317.5,468.4 318.0,468.2 318.5,468.7 319.0,469.4 319.5,469.4 320.0,469.3 320.5,469.0 321.0,468.9 321.5,469.5 322.0,469.7 322.5,469.6 323.0,469.7 323.5,470.0 324.0,470.2 324.6,470.3 325.1,470.2 325.6,469.6 326.1,469.1 326.4,468.6 326.6,468.4 326.7,468.0 327.1,467.8 327.6,468.1 328.1,468.8 328.6,469.3 329.1,469.3 329.6,469.2 330.1,468.9 330.6,469.2 331.1,469.4 331.6,469.7 332.1,469.7 332.7,468.9 333.2,468.7 333.7,469.6 334.2,470.1 334.7,470.3 335.2,470.6 335.7,470.9 336.2,470.8 336.7,470.7 337.2,470.9 337.7,471.1 338.2,470.8 338.7,470.7 339.2,470.7 339.7,470.8 340.3,471.1 340.8,470.9 341.3,470.4 341.8,470.8 342.3,471.0 342.8,469.5 343.3,468.3 343.7,468.6 343.8,468.7 344.0,469.0 344.3,469.0 344.4,468.9 344.8,468.7 345.3,468.8 345.8,468.9 346.3,468.7 346.8,468.3 347.3,468.0 347.8,467.3 348.4,466.5 348.7,466.4 348.9,466.5 349.0,466.6 349.4,467.1 349.9,468.0 350.4,469.0 350.9,469.7 351.4,470.5 351.9,470.5 352.4,470.0 352.9,470.3 353.4,470.8 353.9,471.1 354.4,471.2 354.9,470.8 355.4,470.9 356.0,472.0 356.5,472.0 357.0,470.9 357.5,470.2 358.0,469.6 358.5,469.7 358.8,469.8 359.0,469.8 359.2,469.3 359.3,468.8 359.5,468.3 359.7,467.7 359.8,467.1 360.0,466.6 360.2,466.0 360.3,465.5 360.5,464.9 360.7,464.4 360.8,463.9 361.0,463.6 361.2,463.4 361.4,463.3 361.5,463.3 361.7,463.3 361.9,463.5 362.0,463.7 362.2,464.0 362.4,464.3 362.5,464.6 362.7,464.8 362.9,464.9 363.0,464.9 363.2,464.9 363.4,464.8 363.5,464.6 363.7,464.3 363.9,463.8 364.1,463.2 364.2,462.6 364.4,462.0 364.6,461.4 364.7,460.9 364.9,460.4 365.1,460.2 365.2,460.0 365.4,460.1 365.6,460.5 365.7,461.0 365.9,461.7 366.1,462.4 366.2,463.2 366.4,464.0 366.6,464.8 366.8,465.5 366.9,466.2 367.1,466.9 367.3,467.5 367.4,467.9 367.6,468.2 367.8,468.4 368.1,468.7 368.6,469.0 369.1,469.1 369.6,469.6 370.1,469.9 370.6,470.4 371.1,470.7 371.6,470.2 372.2,470.2 372.7,470.4 373.2,470.4 373.7,470.0 374.2,470.4 374.7,471.1 375.2,470.9 375.7,470.5 376.2,470.4 376.7,470.0 377.2,469.4 377.7,468.5 377.9,468.1 378.2,467.7 378.6,467.8 378.7,468.0 379.2,468.9 379.8,469.2 380.3,469.1 380.8,469.8 381.3,470.5 381.8,470.8 382.3,471.0 382.8,471.0 383.3,471.0 383.8,471.2 384.3,471.0 384.8,470.6 385.3,470.5 385.8,470.6 386.3,470.1 386.8,469.0 387.3,468.4 387.9,468.6 388.0,468.7 388.4,469.0 388.7,469.4 388.9,469.5 389.4,470.2 389.9,470.5 390.4,470.4 390.9,469.6 391.4,469.5 391.9,470.2 392.4,470.7 392.9,470.8 393.4,471.0 393.9,471.2 394.4,471.5 394.9,471.8 395.4,471.7 396.0,470.9 396.5,470.0 397.0,470.2 397.5,471.1 398.0,471.7 398.5,471.8 399.0,471.8 399.5,471.5 400.0,471.3 400.5,471.2 401.0,471.2 401.5,471.5 402.0,471.0 402.5,470.1 402.8,469.8 403.0,469.7 403.1,469.8 403.5,470.0 403.6,470.1 404.1,470.7 404.6,471.1 405.1,470.6 405.6,470.1 406.1,471.2 406.6,472.1 407.1,472.4 407.6,472.6 408.1,472.7 408.6,472.6 409.1,472.4 409.6,471.1 410.1,470.1 410.6,470.2 411.1,470.2 411.7,469.6 411.7,469.4 411.9,469.0 412.1,468.7 412.2,468.4 412.2,468.1 412.4,467.4 412.6,466.5 412.7,466.0 412.8,465.4 412.9,463.9 413.1,462.1 413.2,461.1 413.3,460.1 413.4,458.0 413.6,455.9 413.7,454.9 413.8,453.9 413.9,452.3 414.1,451.3 414.2,451.0 414.3,450.9 414.4,451.2 414.6,452.1 414.7,452.8 414.8,453.5 414.9,455.1 415.1,456.8 415.2,457.7 415.3,458.6 415.5,460.2 415.6,461.7 415.7,462.3 415.8,462.9 416.0,463.9 416.1,464.6 416.2,465.0 416.3,465.2 416.5,465.7 416.6,466.0 416.7,466.1 416.8,466.1 417.1,466.3 417.2,466.4 417.4,466.4 417.7,466.6 418.2,467.2 418.7,467.5 419.3,467.6 419.8,468.0 420.3,468.4 420.8,468.9 421.3,469.4 421.8,469.6 422.3,469.9 422.8,470.3 423.3,470.5 423.8,470.8 424.3,470.6 424.8,470.2 425.3,469.5 425.8,468.8 426.3,468.4 426.8,468.2 427.2,468.4 427.4,468.6 427.5,468.9 427.9,469.2 428.4,469.5 428.9,469.8 429.4,470.0 429.9,469.5 430.4,468.6 430.9,469.2 431.4,470.0 431.9,470.3 432.4,470.7 432.9,470.2 433.4,470.0 433.9,470.1 434.4,470.4 434.9,470.9 435.5,470.7 436.0,470.1 436.5,470.0 437.0,469.9 437.5,470.5 438.0,470.9 438.5,470.3 439.0,470.0" fill="none" stroke="#A5A5A5" stroke-width="1.6" stroke-linejoin="round" stroke-linecap="round"/>
<polyline points="59.2,483.6 59.7,483.2 60.2,482.9 60.7,483.0 61.2,482.9 61.7,482.6 62.2,483.3 62.7,484.5 63.3,484.8 63.8,484.9 64.3,484.2 64.8,483.7 65.3,483.8 65.8,484.0 66.3,484.1 66.8,484.4 67.3,484.8 67.8,484.5 68.3,483.8 68.8,484.2 69.3,484.9 69.8,484.1 70.3,483.6 70.8,484.4 71.4,484.8 71.9,484.4 72.4,484.5 72.9,485.1 73.4,485.2 73.9,485.1 74.4,484.8 74.9,484.6 75.4,484.6 75.9,484.6 76.4,484.5 76.9,484.8 77.4,485.7 77.9,486.1 78.4,486.0 78.9,485.7 79.5,485.2 80.0,484.8 80.5,484.1 81.0,484.2 81.5,485.0 82.0,485.2 82.5,485.2 83.0,485.0 83.5,485.0 84.0,485.1 84.5,485.2 85.0,485.3 85.5,485.1 86.0,484.9 86.5,485.0 87.1,485.0 87.6,484.7 88.1,484.5 88.6,484.4 89.1,484.1 89.6,483.6 90.1,483.4 90.6,483.3 91.1,482.3 91.5,481.6 91.6,481.5 91.7,481.4 91.9,481.3 92.0,481.1 92.1,480.9 92.2,480.7 92.4,480.2 92.5,479.5 92.6,479.2 92.7,478.7 92.9,477.4 93.0,475.7 93.1,474.6 93.2,473.4 93.4,470.5 93.6,467.1 93.6,465.3 93.7,463.6 93.9,460.7 94.1,459.5 94.1,459.8 94.2,460.6 94.4,463.3 94.6,466.7 94.6,468.4 94.7,470.1 94.9,473.0 95.1,475.4 95.2,476.3 95.2,477.2 95.4,478.6 95.6,479.6 95.7,480.0 95.7,480.4 95.9,481.0 96.1,481.5 96.2,481.7 96.3,481.9 96.4,482.2 96.6,482.5 96.7,482.6 97.2,483.2 97.7,482.8 98.2,482.4 98.7,482.8 99.2,482.8 99.7,482.5 100.2,482.6 100.7,482.5 101.2,482.7 101.7,483.3 102.2,483.5 102.8,483.5 103.3,483.7 103.8,483.7 104.3,483.4 104.8,483.2 105.3,483.6 105.8,484.1 106.3,484.5 106.8,484.8 107.3,485.0 107.8,484.4 108.3,483.6 108.8,482.9 109.3,482.5 109.8,483.2 110.3,483.9 110.9,483.8 111.4,483.9 111.9,484.2 112.4,484.1 112.9,484.0 113.4,484.5 113.9,485.2 114.4,485.0 114.9,484.7 115.4,484.1 115.9,483.6 116.4,483.6 116.6,483.5 116.8,483.4 116.9,483.3 117.1,483.1 117.3,482.9 117.4,482.6 117.6,482.3 117.8,481.7 117.9,481.1 118.1,480.4 118.3,479.6 118.4,478.8 118.6,478.0 118.8,477.5 119.0,477.1 119.1,477.2 119.3,477.7 119.5,478.6 119.6,479.4 119.8,480.3 120.0,481.0 120.1,481.6 120.3,482.1 120.5,482.6 120.6,483.1 120.8,483.6 121.0,483.9 121.1,484.2 121.3,484.5 121.5,484.5 121.7,484.5 122.0,484.5 122.5,484.7 123.0,485.1 123.5,485.2 124.0,485.3 124.5,484.8 125.0,484.1 125.5,484.5 126.0,484.7 126.6,485.2 127.1,485.6 127.6,485.5 128.1,485.7 128.6,486.3 129.1,486.5 129.6,486.5 130.1,486.1 130.6,485.6 131.1,485.9 131.6,486.3 132.1,486.5 132.6,486.5 133.1,486.3 133.6,486.5 134.1,487.3 134.7,487.4 135.2,487.3 135.7,487.1 136.2,486.9 136.7,486.6 137.2,486.4 137.7,486.3 138.2,486.3 138.7,486.4 139.2,486.6 139.7,487.2 139.9,487.4 140.1,487.2 140.2,487.1 140.4,487.0 140.6,486.8 140.7,486.7 140.9,486.6 141.1,486.7 141.2,486.7 141.4,486.6 141.6,486.3 141.7,485.8 141.9,485.0 142.1,484.1 142.2,483.3 142.4,483.1 142.6,483.7 142.8,484.7 142.9,485.5 143.1,486.1 143.3,486.6 143.4,486.8 143.6,486.9 143.8,487.1 143.9,487.3 144.1,487.5 144.3,487.6 144.4,487.7 144.6,487.8 144.8,488.0 145.0,488.1 145.3,488.4 145.8,488.4 146.3,488.0 146.8,487.6 147.3,487.1 147.5,487.1 147.7,487.0 147.8,487.0 148.0,487.0 148.2,486.9 148.3,486.8 148.5,486.5 148.7,486.1 148.8,485.6 149.0,485.0 149.2,484.1 149.3,483.1 149.5,482.0 149.7,480.8 149.8,479.9 150.0,479.6 150.2,479.9 150.4,480.6 150.5,481.7 150.7,482.7 150.9,483.7 151.0,484.4 151.2,485.2 151.4,485.7 151.5,486.1 151.7,486.5 151.9,486.7 152.0,486.9 152.2,487.0 152.4,487.1 152.5,487.2 152.9,487.3 153.4,487.3 153.9,487.6 154.4,487.9 154.9,488.0 155.4,487.9 155.9,487.9 156.4,488.1 156.9,488.6 157.4,489.3 157.9,489.0 158.5,488.6 159.0,488.7 159.5,488.9 160.0,488.8 160.5,488.9 161.0,489.0 161.5,489.3 162.0,489.7 162.5,489.6 163.0,489.4 163.5,489.6 164.0,489.9 164.5,489.9 165.0,489.8 165.5,489.8 166.1,489.6 166.6,489.2 167.1,489.0 167.6,489.1 168.1,489.0 168.5,488.8 168.6,488.7 168.8,488.5 169.1,488.5 169.2,488.6 169.6,488.8 170.1,489.1 170.6,489.2 171.1,489.5 171.6,489.6 172.1,489.4 172.6,489.3 173.1,489.3 173.6,489.2 174.2,489.1 174.7,488.7 175.2,487.9 175.6,487.4 175.7,487.3 175.9,487.1 176.2,487.2 176.3,487.3 176.7,488.2 177.2,489.5 177.7,490.3 178.2,490.7 178.7,490.8 179.2,490.8 179.7,490.7 180.2,491.3 180.7,492.0 181.2,491.9 181.7,491.8 182.3,491.3 182.8,491.1 183.3,491.4 183.8,491.5 184.3,491.4 184.8,491.4 185.3,491.3 185.8,492.1 186.3,493.1 186.8,493.1 187.3,493.0 187.8,492.0 188.3,491.6 188.8,492.4 189.3,492.7 189.9,492.5 190.4,492.5 190.9,492.6 191.4,492.7 191.9,492.8 192.4,492.7 192.9,492.3 193.4,492.1 193.9,492.2 194.4,492.2 194.9,492.3 195.4,492.7 195.9,493.1 196.4,493.4 196.9,492.8 197.4,492.0 198.0,492.2 198.5,492.3 199.0,492.5 199.5,492.6 200.0,492.4 200.5,492.4 201.0,492.5 201.5,492.8 202.0,493.2 202.5,493.1 203.0,493.1 203.5,493.2 204.0,493.2 204.5,493.5 205.0,493.6 205.5,493.6 206.1,493.8 206.6,494.4 207.1,494.3 207.6,493.7 207.7,493.5 207.9,493.3 208.1,493.1 208.3,492.8 208.4,492.5 208.6,492.2 208.8,491.8 208.9,491.3 209.1,490.6 209.3,489.8 209.4,488.7 209.6,487.5 209.8,486.2 209.9,484.9 210.1,484.0 210.3,483.6 210.4,484.0 210.6,485.1 210.8,486.5 211.0,488.0 211.1,489.4 211.3,490.6 211.5,491.5 211.6,492.1 211.8,492.5 212.0,492.7 212.1,492.9 212.3,493.0 212.5,493.2 212.6,493.3 212.8,493.4 213.1,493.5 213.7,494.3 214.2,495.1 214.7,494.6 215.2,494.3 215.7,494.8 216.2,495.1 216.7,494.9 217.2,494.9 217.7,495.1 218.2,494.9 218.7,494.5 219.2,494.8 219.7,495.3 220.2,495.2 220.7,495.0 221.2,494.9 221.8,495.0 222.3,495.5 222.8,495.8 223.3,495.7 223.8,495.8 224.3,496.0 224.8,496.3 225.3,496.6 225.8,495.8 226.3,495.3 226.8,496.0 227.3,496.4 227.8,496.0 228.3,495.7 228.8,495.6 229.4,495.9 229.9,496.3 230.4,496.2 230.9,496.0 231.4,495.4 231.9,494.8 232.4,494.9 232.7,494.9 232.9,494.7 233.1,494.7 233.4,494.8 233.9,495.5 234.4,496.1 234.9,496.2 235.4,496.2 235.9,495.8 236.4,495.5 236.9,495.2 237.5,495.0 238.0,495.4 238.5,495.7 239.0,496.1 239.1,496.2 239.3,496.2 239.5,496.3 239.6,496.3 239.8,496.3 240.0,496.3 240.2,496.3 240.3,496.1 240.5,495.9 240.7,495.5 240.8,494.8 241.0,493.8 241.2,492.6 241.3,491.5 241.5,490.9 241.7,491.3 241.8,492.3 242.0,493.3 242.2,494.3 242.3,495.0 242.5,495.5 242.7,495.7 242.9,495.9 243.0,496.0 243.2,495.9 243.4,495.8 243.5,495.7 243.7,495.5 243.9,495.3 244.0,495.2 244.5,494.6 245.0,494.4 245.6,495.1 246.1,495.9 246.6,496.5 247.1,496.2 247.6,495.8 248.1,496.0 248.6,496.3 249.1,496.4 249.6,496.6 250.1,497.0 250.6,497.1 251.1,497.0 251.6,497.4 252.1,498.1 252.6,497.7 253.2,497.1 253.7,496.9 254.2,496.8 254.7,497.0 255.2,496.9 255.7,496.7 256.2,496.5 256.7,496.3 257.2,495.9 257.7,495.2 258.0,494.8 258.2,494.6 258.4,494.7 258.7,495.4 259.2,496.4 259.7,496.7 260.2,496.5 260.7,496.0 261.3,495.3 261.8,494.9 262.3,494.7 262.6,493.8 262.8,492.9 262.9,491.8 263.1,490.2 263.3,488.2 263.4,485.5 263.6,482.2 263.8,478.0 264.0,473.0 264.1,467.3 264.3,461.0 264.5,454.5 264.6,448.3 264.8,443.0 265.0,439.5 265.1,438.3 265.3,439.6 265.5,443.2 265.6,448.5 265.8,454.8 266.0,461.3 266.1,467.7 266.3,473.7 266.5,478.9 266.7,483.3 266.8,486.8 267.0,489.5 267.2,491.4 267.3,492.6 267.5,493.4 267.7,493.8 267.8,494.1 268.0,494.2 268.2,494.3 268.3,494.4 268.5,494.3 268.7,494.2 268.8,493.8 269.0,493.4 269.2,492.7 269.4,491.6 269.5,490.3 269.7,488.6 269.9,486.8 270.0,485.4 270.2,485.0 270.4,485.7 270.5,487.4 270.7,489.4 270.9,491.1 271.0,492.3 271.2,493.2 271.4,493.8 271.6,494.1 271.7,494.3 271.9,494.6 272.1,494.9 272.2,495.1 272.4,495.3 272.6,495.4 272.7,495.4 272.9,495.3 273.4,495.3 273.9,495.8 274.4,496.3 274.9,496.1 275.4,495.7 275.9,496.2 276.4,496.6 277.0,496.9 277.5,496.9 278.0,496.5 278.5,496.4 279.0,496.9 279.5,496.6 280.0,496.1 280.5,496.0 281.0,496.0 281.5,495.6 282.0,495.3 282.5,495.6 283.0,495.8 283.5,495.6 284.0,495.3 284.5,494.9 285.1,494.8 285.6,494.6 285.8,494.3 286.0,493.9 286.1,493.7 286.2,493.4 286.3,492.9 286.5,492.1 286.6,491.6 286.7,491.1 286.8,489.8 287.0,487.5 287.1,485.9 287.2,483.9 287.3,478.8 287.5,471.9 287.6,467.7 287.7,463.1 287.8,453.3 288.0,443.9 288.1,439.9 288.2,436.7 288.3,433.8 288.5,436.2 288.6,439.1 288.7,442.8 288.8,447.1 288.9,451.7 288.9,456.3 289.0,460.9 289.1,465.2 289.2,469.1 289.3,472.5 289.4,475.5 289.4,478.1 289.5,480.1 289.6,481.6 289.7,482.7 289.8,483.2 289.9,483.3 289.9,482.9 290.0,482.0 290.1,480.7 290.2,478.8 290.3,476.5 290.4,473.6 290.5,470.4 290.5,466.7 290.6,462.7 290.7,458.4 290.8,454.2 290.9,450.0 291.0,446.1 291.1,440.3 291.3,438.3 291.5,440.9 291.6,447.3 291.8,455.7 292.0,464.4 292.1,472.2 292.3,478.6 292.5,483.5 292.7,486.9 292.8,489.1 293.0,490.5 293.2,491.6 293.3,492.4 293.5,493.0 293.7,493.4 293.8,493.8 294.2,494.1 294.7,493.7 295.2,493.7 295.4,493.7 295.5,493.8 295.7,493.9 295.9,494.0 296.0,494.2 296.2,494.3 296.4,494.3 296.5,494.2 296.7,494.0 296.9,493.4 297.0,492.4 297.2,491.2 297.4,489.9 297.5,488.7 297.7,488.1 297.9,488.4 298.1,489.2 298.2,490.2 298.4,491.0 298.6,491.6 298.7,492.1 298.9,492.6 299.1,493.0 299.2,493.4 299.4,493.7 299.6,494.0 299.7,494.0 299.9,493.8 300.1,493.6 300.2,493.3 300.4,492.9 300.6,492.6 300.8,492.5 300.9,492.2 301.1,491.8 301.3,491.3 301.4,490.6 301.6,489.6 301.8,488.3 301.9,486.9 302.1,485.4 302.3,483.8 302.4,482.3 302.6,481.3 302.8,480.9 302.9,481.3 303.1,482.3 303.3,483.7 303.5,484.7 303.6,485.6 303.8,486.2 304.0,486.4 304.0,486.5 304.1,486.4 304.2,486.3 304.3,486.2 304.4,485.9 304.5,485.6 304.6,485.3 304.6,484.9 304.7,484.3 304.8,483.7 304.9,483.0 305.0,482.2 305.1,481.2 305.1,480.0 305.2,478.7 305.3,477.1 305.4,475.3 305.6,470.7 305.7,465.0 305.8,461.8 305.9,458.4 306.1,451.7 306.2,445.4 306.3,442.9 306.4,441.0 306.6,439.4 306.7,441.2 306.8,443.3 306.9,446.0 307.1,452.6 307.3,459.8 307.3,463.4 307.4,466.8 307.6,473.1 307.8,478.3 307.8,480.5 307.9,482.4 308.1,485.5 308.2,486.8 308.3,487.7 308.3,488.6 308.4,489.2 308.5,489.8 308.6,490.3 308.8,491.0 308.9,491.3 308.9,491.5 309.1,491.9 309.4,492.2 309.9,492.7 310.4,493.4 310.9,493.6 311.4,493.5 311.6,493.4 311.9,493.0 312.0,493.0 312.3,492.9 312.4,493.0 312.9,494.2 313.4,495.5 313.9,496.5 314.4,497.3 314.9,497.7 315.4,498.0 315.9,498.4 316.5,498.7 317.0,498.9 317.5,499.1 318.0,499.3 318.5,499.5 319.0,499.6 319.5,499.1 320.0,498.5 320.5,499.5 321.0,500.3 321.5,499.7 322.0,499.3 322.5,499.1 323.0,498.8 323.5,498.4 324.0,498.3 324.6,498.2 325.1,498.2 325.6,498.1 326.1,497.2 326.4,496.5 326.6,496.3 326.7,496.0 327.1,495.9 327.6,496.4 328.1,497.5 328.6,498.2 329.1,498.7 329.6,498.8 330.1,498.7 330.6,499.4 331.1,500.2 331.6,500.1 332.1,499.9 332.7,499.6 333.2,499.2 333.7,498.9 334.2,499.0 334.7,499.4 335.2,499.4 335.7,499.3 336.2,499.2 336.7,499.1 337.2,498.9 337.7,498.7 338.2,499.3 338.7,499.6 339.2,499.4 339.7,499.5 340.3,499.8 340.8,499.7 341.3,499.4 341.5,499.1 341.7,498.9 341.8,498.7 341.9,498.5 342.0,498.2 342.2,497.7 342.3,497.5 342.4,497.3 342.5,496.8 342.7,496.3 342.8,496.0 342.9,495.7 343.0,495.0 343.2,494.3 343.3,493.8 343.4,493.4 343.5,492.5 343.7,491.8 343.8,491.5 343.9,491.2 344.0,491.0 344.2,491.2 344.3,491.4 344.4,491.7 344.6,492.5 344.7,493.3 344.8,493.8 344.9,494.2 345.1,495.1 345.2,495.8 345.3,496.1 345.4,496.3 345.6,496.8 345.7,497.2 345.8,497.3 345.9,497.5 346.1,497.8 346.2,498.2 346.3,498.3 346.4,498.4 346.6,498.6 346.8,498.8 347.3,497.8 347.8,496.2 348.4,496.2 348.7,496.6 348.9,496.8 349.0,496.9 349.4,497.3 349.9,498.1 350.4,498.8 350.9,499.2 351.4,499.1 351.9,499.3 352.4,499.8 352.9,500.1 353.4,500.3 353.9,500.2 354.4,500.1 354.9,500.1 355.4,499.9 356.0,499.7 356.5,499.4 357.0,499.0 357.5,498.7 358.0,498.2 358.5,497.4 358.8,496.7 359.0,496.4 359.2,496.3 359.3,496.2 359.5,496.0 359.7,495.9 359.8,495.7 360.0,495.4 360.2,495.0 360.3,494.6 360.5,494.2 360.7,493.8 360.8,493.5 361.0,493.3 361.2,493.2 361.4,493.1 361.5,493.1 361.7,493.1 361.9,492.9 362.0,492.5 362.2,492.1 362.4,491.5 362.5,490.9 362.7,490.0 362.9,489.5 363.0,488.8 363.2,487.8 363.4,486.6 363.5,485.2 363.7,483.6 363.9,481.7 364.1,479.7 364.2,477.8 364.4,475.9 364.6,474.1 364.7,472.3 364.9,470.9 365.1,469.8 365.2,469.3 365.4,469.2 365.6,469.9 365.7,471.3 365.9,473.0 366.1,475.0 366.2,477.1 366.4,479.3 366.6,481.4 366.8,483.5 366.9,485.5 367.1,487.3 367.3,489.0 367.4,490.5 367.6,491.7 367.8,492.8 368.1,494.3 368.6,496.1 369.1,497.3 369.6,498.0 370.1,498.3 370.6,498.1 371.1,497.9 371.6,498.3 372.2,498.5 372.7,498.4 373.2,498.4 373.7,498.7 374.2,497.9 374.7,496.5 375.2,496.6 375.7,497.0 376.2,496.8 376.7,496.5 377.2,496.1 377.7,495.5 377.9,495.3 378.2,495.2 378.6,495.4 378.7,495.6 379.2,496.3 379.8,496.7 380.3,496.5 380.8,496.3 381.3,497.3 381.8,497.6 382.3,497.7 382.8,498.3 383.3,498.7 383.8,498.5 384.3,498.3 384.8,498.0 385.3,498.2 385.8,498.6 386.3,498.5 386.8,498.4 387.3,498.0 387.9,497.5 388.0,497.3 388.4,497.0 388.7,496.8 388.9,496.9 389.4,497.4 389.9,498.0 390.4,498.9 390.9,499.5 391.4,499.7 391.9,499.0 392.4,498.1 392.9,497.9 393.4,498.1 393.9,498.5 394.4,498.9 394.9,499.0 395.4,499.0 396.0,499.2 396.5,499.6 397.0,500.0 397.5,500.3 398.0,500.6 398.5,500.4 399.0,500.3 399.5,500.2 400.0,500.2 400.5,500.1 401.0,499.6 401.5,498.5 402.0,497.8 402.5,497.2 402.8,496.8 403.0,496.5 403.1,496.5 403.5,496.4 403.6,496.5 404.1,497.6 404.6,498.7 405.1,499.4 405.6,500.0 406.1,500.5 406.6,500.4 407.1,499.8 407.6,499.7 408.1,500.0 408.6,500.2 409.1,500.4 409.5,500.3 409.6,500.2 409.8,500.1 410.0,500.0 410.1,499.8 410.3,499.4 410.5,499.0 410.6,498.5 410.8,497.9 411.0,497.2 411.1,496.6 411.3,495.9 411.5,495.2 411.7,494.5 411.8,494.0 412.0,493.7 412.2,493.8 412.3,494.3 412.5,495.1 412.7,495.8 412.8,496.5 413.0,497.1 413.2,497.6 413.3,498.0 413.5,498.3 413.7,498.5 413.8,498.6 414.0,498.6 414.2,498.6 414.4,498.5 414.5,498.4 414.7,498.4 415.2,498.3 415.7,498.2 416.2,497.8 416.7,497.6 417.1,497.6 417.2,497.7 417.4,497.8 417.7,498.2 418.2,498.8 418.7,498.9 419.3,498.8 419.8,499.1 420.3,499.4 420.8,499.4 421.3,499.3 421.8,498.9 422.3,498.8 422.8,499.2 423.3,499.8 423.8,500.8 424.3,501.0 424.8,500.8 425.3,500.9 425.8,501.0 426.3,500.8 426.8,500.3 427.2,500.0 427.4,499.9 427.5,499.8 427.9,500.0 428.4,500.8 428.9,501.5 429.4,501.8 429.9,501.7 430.4,501.2 430.9,500.6 431.4,500.0 431.9,500.3 432.4,500.7 432.9,501.0 433.4,501.1 433.9,500.7 434.4,500.8 434.9,501.0 435.5,501.0 436.0,501.0 436.5,501.2 437.0,501.5 437.5,500.4 438.0,499.5 438.5,499.8 439.0,499.9" fill="none" stroke="#FFC000" stroke-width="1.6" stroke-linejoin="round" stroke-linecap="round"/>
<line x1="15.1" y1="223.4" x2="430.0" y2="223.4" stroke="#000" stroke-width="1.5"/>
<line x1="15.7" y1="223.4" x2="15.7" y2="227.0" stroke="#000" stroke-width="1.3"/>
<line x1="57.1" y1="223.4" x2="57.1" y2="227.0" stroke="#000" stroke-width="1.3"/>
<line x1="98.4" y1="223.4" x2="98.4" y2="227.0" stroke="#000" stroke-width="1.3"/>
<line x1="139.8" y1="223.4" x2="139.8" y2="227.0" stroke="#000" stroke-width="1.3"/>
<line x1="181.2" y1="223.4" x2="181.2" y2="227.0" stroke="#000" stroke-width="1.3"/>
<line x1="222.5" y1="223.4" x2="222.5" y2="227.0" stroke="#000" stroke-width="1.3"/>
<line x1="263.9" y1="223.4" x2="263.9" y2="227.0" stroke="#000" stroke-width="1.3"/>
<line x1="305.3" y1="223.4" x2="305.3" y2="227.0" stroke="#000" stroke-width="1.3"/>
<line x1="346.7" y1="223.4" x2="346.7" y2="227.0" stroke="#000" stroke-width="1.3"/>
<line x1="388.0" y1="223.4" x2="388.0" y2="227.0" stroke="#000" stroke-width="1.3"/>
<line x1="429.4" y1="223.4" x2="429.4" y2="227.0" stroke="#000" stroke-width="1.3"/>
<text class="ax" x="15.7" y="240.9" text-anchor="middle">0</text>
<text class="ax" x="98.4" y="240.9" text-anchor="middle">10</text>
<text class="ax" x="181.2" y="240.9" text-anchor="middle">20</text>
<text class="ax" x="263.9" y="240.9" text-anchor="middle">30</text>
<text class="ax" x="346.7" y="240.9" text-anchor="middle">40</text>
<text class="ax" x="429.4" y="240.9" text-anchor="middle">50</text>

<line x1="16.4" y1="513.6" x2="439.6" y2="513.6" stroke="#000" stroke-width="1.5"/>
<line x1="17.0" y1="513.6" x2="17.0" y2="517.2" stroke="#000" stroke-width="1.3"/>
<line x1="59.2" y1="513.6" x2="59.2" y2="517.2" stroke="#000" stroke-width="1.3"/>
<line x1="101.4" y1="513.6" x2="101.4" y2="517.2" stroke="#000" stroke-width="1.3"/>
<line x1="143.6" y1="513.6" x2="143.6" y2="517.2" stroke="#000" stroke-width="1.3"/>
<line x1="185.8" y1="513.6" x2="185.8" y2="517.2" stroke="#000" stroke-width="1.3"/>
<line x1="228.0" y1="513.6" x2="228.0" y2="517.2" stroke="#000" stroke-width="1.3"/>
<line x1="270.2" y1="513.6" x2="270.2" y2="517.2" stroke="#000" stroke-width="1.3"/>
<line x1="312.4" y1="513.6" x2="312.4" y2="517.2" stroke="#000" stroke-width="1.3"/>
<line x1="354.6" y1="513.6" x2="354.6" y2="517.2" stroke="#000" stroke-width="1.3"/>
<line x1="396.8" y1="513.6" x2="396.8" y2="517.2" stroke="#000" stroke-width="1.3"/>
<line x1="439.0" y1="513.6" x2="439.0" y2="517.2" stroke="#000" stroke-width="1.3"/>
<text class="ax" x="17.0" y="531.4" text-anchor="middle">0</text>
<text class="ax" x="101.4" y="531.4" text-anchor="middle">10</text>
<text class="ax" x="185.8" y="531.4" text-anchor="middle">20</text>
<text class="ax" x="270.2" y="531.4" text-anchor="middle">30</text>
<text class="ax" x="354.6" y="531.4" text-anchor="middle">40</text>
<text class="ax" x="439.0" y="531.4" text-anchor="middle">50</text>

<text class="at" x="208.5" y="251.9">2<tspan font-weight="bold">θ</tspan> (º)</text>
<text class="at" x="214.0" y="540.9">2<tspan font-weight="bold">θ</tspan> (º)</text>
<text class="sr" x="13.8" y="121.3" text-anchor="start">GU + DW</text>

<text class="sr" x="34.7" y="133.0" text-anchor="middle">(Ref)</text>

<text class="sr" x="13.8" y="153.7" text-anchor="start">GU + 0.5%</text>

<text class="sr" x="14.2" y="176.3" text-anchor="start">GU + 2%</text>

<text class="sr" x="14.2" y="198.0" text-anchor="start">GU + 5%</text>

<text class="sr2" x="21.9" y="389.9" text-anchor="start">GU + DW</text>

<text class="sr2" x="43.7" y="401.6" text-anchor="middle">(Ref)</text>

<text class="sr2" x="20.9" y="428.3" text-anchor="start">GU + 0.5%</text>

<text class="sr2" x="23.0" y="456.3" text-anchor="start">GU + 2%</text>

<text class="sr2" x="23.0" y="484.5" text-anchor="start">GU + 5%</text>

<text class="pk" x="165.4" y="27.6" text-anchor="start">CH</text>

<text class="pk" x="93.8" y="111.7" text-anchor="start">Ett</text>

<text class="pk" x="114.5" y="127.6" text-anchor="start">C<tspan class="sub" dy="2">3</tspan><tspan dy="-2">A</tspan></text>

<text class="pk" x="135.3" y="129.8" text-anchor="start">C<tspan class="sub" dy="2">3</tspan><tspan dy="-2">S</tspan></text>

<text class="pk" x="150.6" y="126.6" text-anchor="start">Ett</text>

<text class="pk" x="176.4" y="134.6" text-anchor="start">Ett</text>

<text class="pk" x="209.4" y="129.8" text-anchor="start">Ett</text>

<text class="pk" x="262.1" y="100.0" text-anchor="start">Cc</text>

<text class="pk" x="282.0" y="91.6" text-anchor="start">C<tspan class="sub" dy="2">3</tspan><tspan dy="-2">S</tspan></text>

<text class="pk" x="309.2" y="115.4" text-anchor="start">C<tspan class="sub" dy="2">3</tspan><tspan dy="-2">S</tspan></text>

<text class="pk" x="270.7" y="135.5" text-anchor="start">C<tspan class="sub" dy="2">3</tspan><tspan dy="-2">A</tspan></text>

<text class="pk" x="320.8" y="143.5" text-anchor="start">Ett</text>

<text class="pk" x="341.8" y="138.2" text-anchor="start">C<tspan class="sub" dy="2">3</tspan><tspan dy="-2">S</tspan></text>

<text class="pk" x="359.0" y="125.6" text-anchor="start">C<tspan class="sub" dy="2">3</tspan><tspan dy="-2">S</tspan></text>

<text class="pk" x="373.1" y="140.8" text-anchor="start">Cc</text>

<text class="pk" x="385.2" y="144.9" text-anchor="start">Cc</text>

<text class="pk" x="404.6" y="133.3" text-anchor="start">CH</text>

<text class="pk" x="420.6" y="147.6" text-anchor="start">Cc</text>

<text class="pk" style="font-size:9.8px" x="172.8" y="288.9">CH</text>

<text class="pk" style="font-size:9px" x="95.5" y="373.8">Ett</text>

<text class="pk" style="font-size:9px" x="119.8" y="392.8">C<tspan class="sub" dy="2">3</tspan><tspan dy="-2">A</tspan></text>

<text class="pk" style="font-size:9px" x="154.0" y="393.7">Ett</text>

<text class="pk" style="font-size:9px" x="180.1" y="397.3">Ett</text>

<text class="pk" style="font-size:9px" x="212.9" y="400.0">Ett</text>

<text class="pk" style="font-size:8.6px" x="236.0" y="403.0">Ett</text>

<text class="pk" style="font-size:9px" x="109.7" y="418.8">Ms</text>

<text class="pk" style="font-size:9px" x="110.5" y="450.3">Ms</text>

<text class="pk" style="font-size:9px" x="140.2" y="478.6">C<tspan class="sub" dy="2">3</tspan><tspan dy="-2">S</tspan></text>

<text class="pk" style="font-size:9px" x="242.7" y="488.3">Ms</text>

<text class="pk" style="font-size:9.4px" x="268.2" y="364.8">Cc</text>

<text class="pk" style="font-size:9.5px" x="256.9" y="401.9">CH</text>

<text class="pk" style="font-size:9.2px" x="288.5" y="385.7">C<tspan class="sub" dy="2">3</tspan><tspan dy="-2">S</tspan></text>

<text class="pk" style="font-size:9.4px" x="305.0" y="365.1">C<tspan class="sub" dy="2">3</tspan><tspan dy="-2">S</tspan></text>

<text class="pk" style="font-size:8.4px" x="317.6" y="405.2">Ett</text>

<text class="pk" style="font-size:9.5px" x="335.1" y="411.5">Cc</text>

<text class="pk" style="font-size:9.5px" x="352.5" y="410.2">Cc</text>

<text class="pk" style="font-size:9.2px" x="365.5" y="406.2">C<tspan class="sub" dy="2">3</tspan><tspan dy="-2">S</tspan></text>

<text class="pk" style="font-size:9.7px" x="414.3" y="395.4">CH</text>

<text class="pk" style="font-size:9.2px" x="429.9" y="411.5">Cc</text>

</svg>
</body></html>
